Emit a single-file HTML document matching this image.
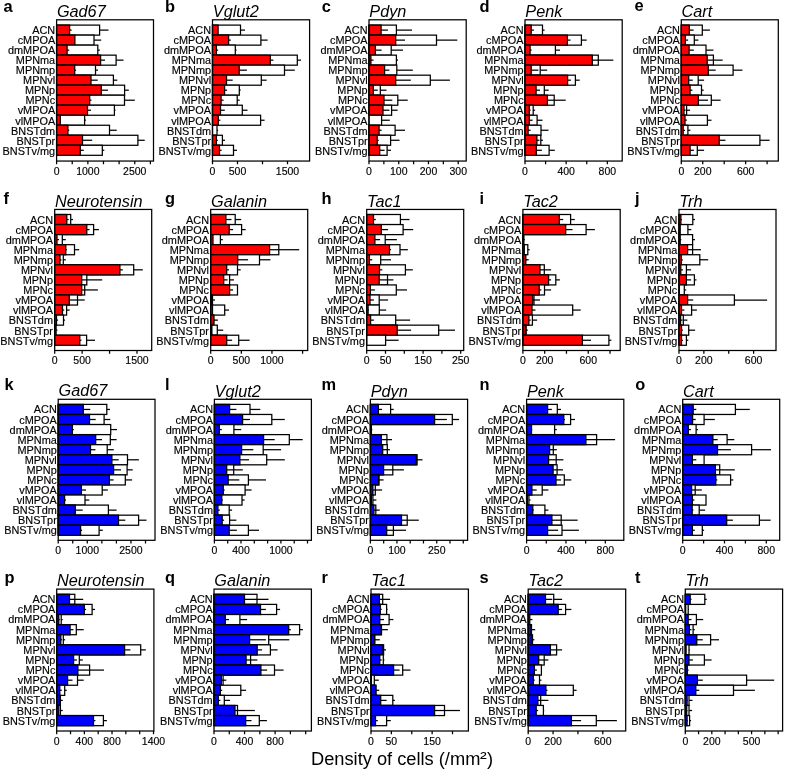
<!DOCTYPE html>
<html lang="en"><head><meta charset="utf-8"><title>Density of cells</title>
<style>html,body{margin:0;padding:0;background:#fff}svg{display:block}text{font-family:"Liberation Sans", Arial, Helvetica, sans-serif;fill:#000}.l,.t{stroke:#000;stroke-width:.15px}.l{font-size:10.9px;text-anchor:end}.t{font-size:10.5px;text-anchor:middle}.h{font-size:16.25px;font-style:italic}.p{font-size:16.4px;font-weight:bold}.fr{fill:none;stroke:#000;stroke-width:1.25}.b{stroke:#000;stroke-width:1.25}.e{stroke:#000;stroke-width:1.25;fill:none}</style></head><body>
<svg width="785" height="771" viewBox="0 0 785 771">
<rect width="785" height="771" fill="#fff"/>
<g id="panel-a">
<text class="p" x="3.6" y="11.8">a</text>
<text class="h" transform="translate(56.9 16.8) scale(1 1.0)">Gad67</text>
<text class="l" x="55.2" y="33.6">ACN</text>
<rect class="b" x="56.6" y="25.1" width="43" height="10.02" fill="#fff"/>
<path class="e" d="M99.6 30.11H108.5"/>
<rect class="b" x="56.6" y="25.1" width="13" height="10.02" fill="#ff0000"/>
<path class="e" d="M69.6 30.11H71.6"/>
<text class="l" x="55.2" y="43.7">cMPOA</text>
<rect class="b" x="56.6" y="35.12" width="37.4" height="10.02" fill="#fff"/>
<path class="e" d="M94 40.12H101.2"/>
<rect class="b" x="56.6" y="35.12" width="18.3" height="10.02" fill="#ff0000"/>
<text class="l" x="55.2" y="53.8">dmMPOA</text>
<rect class="b" x="56.6" y="45.13" width="41.2" height="10.02" fill="#fff"/>
<path class="e" d="M97.8 50.14H99.8"/>
<rect class="b" x="56.6" y="45.13" width="10.5" height="10.02" fill="#ff0000"/>
<path class="e" d="M67.1 50.14H69.2"/>
<text class="l" x="55.2" y="63.9">MPNma</text>
<rect class="b" x="56.6" y="55.15" width="59.5" height="10.02" fill="#fff"/>
<path class="e" d="M116.1 60.15H123.5"/>
<rect class="b" x="56.6" y="55.15" width="44" height="10.02" fill="#ff0000"/>
<path class="e" d="M100.6 60.15H105"/>
<text class="l" x="55.2" y="74">MPNmp</text>
<rect class="b" x="56.6" y="65.16" width="38.9" height="10.02" fill="#fff"/>
<path class="e" d="M95.5 70.17H98"/>
<rect class="b" x="56.6" y="65.16" width="18.1" height="10.02" fill="#ff0000"/>
<path class="e" d="M74.7 70.17H76.1"/>
<text class="l" x="55.2" y="84.1">MPNvl</text>
<rect class="b" x="56.6" y="75.18" width="56.8" height="10.02" fill="#fff"/>
<path class="e" d="M113.4 80.18H117.3"/>
<rect class="b" x="56.6" y="75.18" width="34.4" height="10.02" fill="#ff0000"/>
<path class="e" d="M91 80.18H97.7"/>
<text class="l" x="55.2" y="94.2">MPNp</text>
<rect class="b" x="56.6" y="85.19" width="68" height="10.02" fill="#fff"/>
<path class="e" d="M124.6 90.2H128.8"/>
<rect class="b" x="56.6" y="85.19" width="44.7" height="10.02" fill="#ff0000"/>
<path class="e" d="M101.3 90.2H108"/>
<text class="l" x="55.2" y="104.3">MPNc</text>
<rect class="b" x="56.6" y="95.21" width="67.9" height="10.02" fill="#fff"/>
<path class="e" d="M124.5 100.21H134.8"/>
<rect class="b" x="56.6" y="95.21" width="33.1" height="10.02" fill="#ff0000"/>
<path class="e" d="M89.7 100.21H91.4"/>
<text class="l" x="55.2" y="114.4">vMPOA</text>
<rect class="b" x="56.6" y="105.22" width="57.8" height="10.02" fill="#fff"/>
<path class="e" d="M114.4 110.23H115.5"/>
<rect class="b" x="56.6" y="105.22" width="30.9" height="10.02" fill="#ff0000"/>
<path class="e" d="M87.5 110.23H91"/>
<text class="l" x="55.2" y="124.5">vlMPOA</text>
<rect class="b" x="56.6" y="115.24" width="28" height="10.02" fill="#fff"/>
<path class="e" d="M84.6 120.24H86"/>
<rect class="b" x="56.6" y="115.24" width="3.7" height="10.02" fill="#ff0000"/>
<text class="l" x="55.2" y="134.6">BNSTdm</text>
<rect class="b" x="56.6" y="125.25" width="52.9" height="10.02" fill="#fff"/>
<path class="e" d="M109.5 130.26H116.7"/>
<rect class="b" x="56.6" y="125.25" width="11.3" height="10.02" fill="#ff0000"/>
<path class="e" d="M67.9 130.26H69.2"/>
<text class="l" x="55.2" y="144.7">BNSTpr</text>
<rect class="b" x="56.6" y="135.27" width="81.3" height="10.02" fill="#fff"/>
<path class="e" d="M137.9 140.27H144.7"/>
<rect class="b" x="56.6" y="135.27" width="25.9" height="10.02" fill="#ff0000"/>
<path class="e" d="M82.5 140.27H92.2"/>
<text class="l" x="55.2" y="154.8">BNSTv/mg</text>
<rect class="b" x="56.6" y="145.28" width="45.7" height="10.02" fill="#fff"/>
<path class="e" d="M102.3 150.29H104.3"/>
<rect class="b" x="56.6" y="145.28" width="23.7" height="10.02" fill="#ff0000"/>
<path class="e" d="M80.3 150.29H83.8"/>
<rect class="fr" x="56.6" y="19.8" width="96.9" height="141.25"/>
<path class="e" d="M56.6 161.05v3.2M72.23 161.05v3.2M87.86 161.05v3.2M103.49 161.05v3.2M119.12 161.05v3.2M134.75 161.05v3.2M150.38 161.05v3.2"/>
<text class="t" x="56.6" y="174.85">0</text>
<text class="t" x="87.86" y="174.85">1000</text>
<text class="t" x="134.75" y="174.85">2500</text>
</g>
<g id="panel-b">
<text class="p" x="165" y="11.6">b</text>
<text class="h" transform="translate(212.8 16.8) scale(1 1.0)">Vglut2</text>
<text class="l" x="211.1" y="33.6">ACN</text>
<rect class="b" x="212.5" y="25.1" width="28" height="10.02" fill="#fff"/>
<path class="e" d="M240.5 30.11H245"/>
<rect class="b" x="212.5" y="25.1" width="5.6" height="10.02" fill="#ff0000"/>
<text class="l" x="211.1" y="43.7">cMPOA</text>
<rect class="b" x="212.5" y="35.12" width="48.4" height="10.02" fill="#fff"/>
<path class="e" d="M260.9 40.12H267.6"/>
<rect class="b" x="212.5" y="35.12" width="16.1" height="10.02" fill="#ff0000"/>
<path class="e" d="M228.6 40.12H230.8"/>
<text class="l" x="211.1" y="53.8">dmMPOA</text>
<rect class="b" x="212.5" y="45.13" width="22.8" height="10.02" fill="#fff"/>
<path class="e" d="M235.3 50.14H236.6"/>
<rect class="b" x="212.5" y="45.13" width="3.9" height="10.02" fill="#ff0000"/>
<path class="e" d="M216.4 50.14H218.1"/>
<text class="l" x="211.1" y="63.9">MPNma</text>
<rect class="b" x="212.5" y="55.15" width="84.8" height="10.02" fill="#fff"/>
<path class="e" d="M297.3 60.15H301"/>
<rect class="b" x="212.5" y="55.15" width="57.8" height="10.02" fill="#ff0000"/>
<path class="e" d="M270.3 60.15H273.4"/>
<text class="l" x="211.1" y="74">MPNmp</text>
<rect class="b" x="212.5" y="65.16" width="72" height="10.02" fill="#fff"/>
<path class="e" d="M284.5 70.17H294.8"/>
<rect class="b" x="212.5" y="65.16" width="26.7" height="10.02" fill="#ff0000"/>
<path class="e" d="M239.2 70.17H246.9"/>
<text class="l" x="211.1" y="84.1">MPNvl</text>
<rect class="b" x="212.5" y="75.18" width="48.8" height="10.02" fill="#fff"/>
<path class="e" d="M261.3 80.18H266.6"/>
<rect class="b" x="212.5" y="75.18" width="14" height="10.02" fill="#ff0000"/>
<path class="e" d="M226.5 80.18H232.7"/>
<text class="l" x="211.1" y="94.2">MPNp</text>
<rect class="b" x="212.5" y="85.19" width="26.8" height="10.02" fill="#fff"/>
<path class="e" d="M239.3 90.2H240.7"/>
<rect class="b" x="212.5" y="85.19" width="12.1" height="10.02" fill="#ff0000"/>
<path class="e" d="M224.6 90.2H227.1"/>
<text class="l" x="211.1" y="104.3">MPNc</text>
<rect class="b" x="212.5" y="95.21" width="24.7" height="10.02" fill="#fff"/>
<path class="e" d="M237.2 100.21H239.7"/>
<rect class="b" x="212.5" y="95.21" width="8.6" height="10.02" fill="#ff0000"/>
<path class="e" d="M221.1 100.21H223.6"/>
<text class="l" x="211.1" y="114.4">vMPOA</text>
<rect class="b" x="212.5" y="105.22" width="29.8" height="10.02" fill="#fff"/>
<path class="e" d="M242.3 110.23H247.5"/>
<rect class="b" x="212.5" y="105.22" width="8" height="10.02" fill="#ff0000"/>
<path class="e" d="M220.5 110.23H224.8"/>
<text class="l" x="211.1" y="124.5">vlMPOA</text>
<rect class="b" x="212.5" y="115.24" width="48.1" height="10.02" fill="#fff"/>
<path class="e" d="M260.6 120.24H264.6"/>
<rect class="b" x="212.5" y="115.24" width="5.8" height="10.02" fill="#ff0000"/>
<path class="e" d="M218.3 120.24H220.3"/>
<text class="l" x="211.1" y="134.6">BNSTdm</text>
<rect class="b" x="212.5" y="125.25" width="4.5" height="10.02" fill="#fff"/>
<path class="e" d="M217 130.26H218.1"/>
<text class="l" x="211.1" y="144.7">BNSTpr</text>
<rect class="b" x="212.5" y="135.27" width="9.9" height="10.02" fill="#fff"/>
<path class="e" d="M222.4 140.27H225"/>
<rect class="b" x="212.5" y="135.27" width="3.9" height="10.02" fill="#ff0000"/>
<path class="e" d="M216.4 140.27H217.8"/>
<text class="l" x="211.1" y="154.8">BNSTv/mg</text>
<rect class="b" x="212.5" y="145.28" width="21" height="10.02" fill="#fff"/>
<path class="e" d="M233.5 150.29H237"/>
<rect class="b" x="212.5" y="145.28" width="7" height="10.02" fill="#ff0000"/>
<path class="e" d="M219.5 150.29H221.6"/>
<rect class="fr" x="212.5" y="19.8" width="97.1" height="141.25"/>
<path class="e" d="M212.5 161.05v3.2M237.5 161.05v3.2M262.5 161.05v3.2M287.5 161.05v3.2"/>
<text class="t" x="212.5" y="174.85">0</text>
<text class="t" x="237.5" y="174.85">500</text>
<text class="t" x="287.5" y="174.85">1500</text>
</g>
<g id="panel-c">
<text class="p" x="321.8" y="11.5">c</text>
<text class="h" transform="translate(369.3 16.8) scale(1 1.0)">Pdyn</text>
<text class="l" x="367.6" y="33.6">ACN</text>
<rect class="b" x="369" y="25.1" width="27.4" height="10.02" fill="#fff"/>
<path class="e" d="M396.4 30.11H412"/>
<rect class="b" x="369" y="25.1" width="12.1" height="10.02" fill="#ff0000"/>
<path class="e" d="M381.1 30.11H387.9"/>
<text class="l" x="367.6" y="43.7">cMPOA</text>
<rect class="b" x="369" y="35.12" width="67.5" height="10.02" fill="#fff"/>
<path class="e" d="M436.5 40.12H457.3"/>
<rect class="b" x="369" y="35.12" width="26.7" height="10.02" fill="#ff0000"/>
<path class="e" d="M395.7 40.12H405"/>
<text class="l" x="367.6" y="53.8">dmMPOA</text>
<rect class="b" x="369" y="45.13" width="22.2" height="10.02" fill="#fff"/>
<path class="e" d="M391.2 50.14H403"/>
<rect class="b" x="369" y="45.13" width="6.4" height="10.02" fill="#ff0000"/>
<path class="e" d="M375.4 50.14H381.6"/>
<text class="l" x="367.6" y="63.9">MPNma</text>
<rect class="b" x="369" y="55.15" width="27.4" height="10.02" fill="#fff"/>
<path class="e" d="M396.4 60.15H398"/>
<rect class="b" x="369" y="55.15" width="1.9" height="10.02" fill="#ff0000"/>
<path class="e" d="M370.9 60.15H373.5"/>
<text class="l" x="367.6" y="74">MPNmp</text>
<rect class="b" x="369" y="65.16" width="27.8" height="10.02" fill="#fff"/>
<path class="e" d="M396.8 70.17H412.8"/>
<rect class="b" x="369" y="65.16" width="15.6" height="10.02" fill="#ff0000"/>
<path class="e" d="M384.6 70.17H389.4"/>
<text class="l" x="367.6" y="84.1">MPNvl</text>
<rect class="b" x="369" y="75.18" width="61.3" height="10.02" fill="#fff"/>
<path class="e" d="M430.3 80.18H449.9"/>
<rect class="b" x="369" y="75.18" width="26.7" height="10.02" fill="#ff0000"/>
<path class="e" d="M395.7 80.18H410.8"/>
<text class="l" x="367.6" y="94.2">MPNp</text>
<rect class="b" x="369" y="85.19" width="11.3" height="10.02" fill="#fff"/>
<path class="e" d="M380.3 90.2H386.5"/>
<rect class="b" x="369" y="85.19" width="4.3" height="10.02" fill="#ff0000"/>
<path class="e" d="M373.3 90.2H377.8"/>
<text class="l" x="367.6" y="104.3">MPNc</text>
<rect class="b" x="369" y="95.21" width="28.8" height="10.02" fill="#fff"/>
<path class="e" d="M397.8 100.21H407.7"/>
<rect class="b" x="369" y="95.21" width="15" height="10.02" fill="#ff0000"/>
<path class="e" d="M384 100.21H392.3"/>
<text class="l" x="367.6" y="114.4">vMPOA</text>
<rect class="b" x="369" y="105.22" width="22.6" height="10.02" fill="#fff"/>
<path class="e" d="M391.6 110.23H397.6"/>
<rect class="b" x="369" y="105.22" width="14" height="10.02" fill="#ff0000"/>
<path class="e" d="M383 110.23H389.4"/>
<text class="l" x="367.6" y="124.5">vlMPOA</text>
<rect class="b" x="369" y="115.24" width="12.6" height="10.02" fill="#fff"/>
<path class="e" d="M381.6 120.24H389.8"/>
<text class="l" x="367.6" y="134.6">BNSTdm</text>
<rect class="b" x="369" y="125.25" width="26.1" height="10.02" fill="#fff"/>
<path class="e" d="M395.1 130.26H405"/>
<rect class="b" x="369" y="125.25" width="10.1" height="10.02" fill="#ff0000"/>
<path class="e" d="M379.1 130.26H381.6"/>
<text class="l" x="367.6" y="144.7">BNSTpr</text>
<rect class="b" x="369" y="135.27" width="21.6" height="10.02" fill="#fff"/>
<path class="e" d="M390.6 140.27H399.5"/>
<rect class="b" x="369" y="135.27" width="8.2" height="10.02" fill="#ff0000"/>
<path class="e" d="M377.2 140.27H378.7"/>
<text class="l" x="367.6" y="154.8">BNSTv/mg</text>
<rect class="b" x="369" y="145.28" width="18.1" height="10.02" fill="#fff"/>
<path class="e" d="M387.1 150.29H391"/>
<rect class="b" x="369" y="145.28" width="10.7" height="10.02" fill="#ff0000"/>
<path class="e" d="M379.7 150.29H384.6"/>
<rect class="fr" x="369" y="19.8" width="97.2" height="141.25"/>
<path class="e" d="M369 161.05v3.2M383.87 161.05v3.2M398.74 161.05v3.2M413.61 161.05v3.2M428.48 161.05v3.2M443.35 161.05v3.2M458.22 161.05v3.2"/>
<text class="t" x="369" y="174.85">0</text>
<text class="t" x="398.74" y="174.85">100</text>
<text class="t" x="428.48" y="174.85">200</text>
<text class="t" x="458.22" y="174.85">300</text>
</g>
<g id="panel-d">
<text class="p" x="479.6" y="11.5">d</text>
<text class="h" transform="translate(525.3 16.8) scale(1 1.0)">Penk</text>
<text class="l" x="523.6" y="33.6">ACN</text>
<rect class="b" x="525" y="25.1" width="17.5" height="10.02" fill="#fff"/>
<path class="e" d="M542.5 30.11H544.6"/>
<rect class="b" x="525" y="25.1" width="6.2" height="10.02" fill="#ff0000"/>
<path class="e" d="M531.2 30.11H533.9"/>
<text class="l" x="523.6" y="43.7">cMPOA</text>
<rect class="b" x="525" y="35.12" width="56.4" height="10.02" fill="#fff"/>
<path class="e" d="M581.4 40.12H586.7"/>
<rect class="b" x="525" y="35.12" width="42.4" height="10.02" fill="#ff0000"/>
<path class="e" d="M567.4 40.12H570.5"/>
<text class="l" x="523.6" y="53.8">dmMPOA</text>
<rect class="b" x="525" y="45.13" width="30.4" height="10.02" fill="#fff"/>
<path class="e" d="M555.4 50.14H560"/>
<rect class="b" x="525" y="45.13" width="5.1" height="10.02" fill="#ff0000"/>
<path class="e" d="M530.1 50.14H531.6"/>
<text class="l" x="523.6" y="63.9">MPNma</text>
<rect class="b" x="525" y="55.15" width="73.3" height="10.02" fill="#fff"/>
<path class="e" d="M598.3 60.15H613.3"/>
<rect class="b" x="525" y="55.15" width="67.3" height="10.02" fill="#ff0000"/>
<path class="e" d="M592.3 60.15H598.3"/>
<text class="l" x="523.6" y="74">MPNmp</text>
<rect class="b" x="525" y="65.16" width="15.2" height="10.02" fill="#fff"/>
<path class="e" d="M540.2 70.17H547.2"/>
<rect class="b" x="525" y="65.16" width="6.2" height="10.02" fill="#ff0000"/>
<path class="e" d="M531.2 70.17H538.4"/>
<text class="l" x="523.6" y="84.1">MPNvl</text>
<rect class="b" x="525" y="75.18" width="50.4" height="10.02" fill="#fff"/>
<path class="e" d="M575.4 80.18H579.7"/>
<rect class="b" x="525" y="75.18" width="42.6" height="10.02" fill="#ff0000"/>
<path class="e" d="M567.6 80.18H570.9"/>
<text class="l" x="523.6" y="94.2">MPNp</text>
<rect class="b" x="525" y="85.19" width="19.3" height="10.02" fill="#fff"/>
<path class="e" d="M544.3 90.2H548.7"/>
<rect class="b" x="525" y="85.19" width="11.1" height="10.02" fill="#ff0000"/>
<path class="e" d="M536.1 90.2H540"/>
<text class="l" x="523.6" y="104.3">MPNc</text>
<rect class="b" x="525" y="95.21" width="29.2" height="10.02" fill="#fff"/>
<path class="e" d="M554.2 100.21H565.7"/>
<rect class="b" x="525" y="95.21" width="22.4" height="10.02" fill="#ff0000"/>
<path class="e" d="M547.4 100.21H554.2"/>
<text class="l" x="523.6" y="114.4">vMPOA</text>
<rect class="b" x="525" y="105.22" width="8.2" height="10.02" fill="#fff"/>
<path class="e" d="M533.2 110.23H535.1"/>
<rect class="b" x="525" y="105.22" width="4.3" height="10.02" fill="#ff0000"/>
<path class="e" d="M529.3 110.23H530.6"/>
<text class="l" x="523.6" y="124.5">vlMPOA</text>
<rect class="b" x="525" y="115.24" width="12.1" height="10.02" fill="#fff"/>
<path class="e" d="M537.1 120.24H542.5"/>
<rect class="b" x="525" y="115.24" width="4.3" height="10.02" fill="#ff0000"/>
<path class="e" d="M529.3 120.24H532.6"/>
<text class="l" x="523.6" y="134.6">BNSTdm</text>
<rect class="b" x="525" y="125.25" width="16" height="10.02" fill="#fff"/>
<path class="e" d="M541 130.26H548.5"/>
<rect class="b" x="525" y="125.25" width="3.1" height="10.02" fill="#ff0000"/>
<path class="e" d="M528.1 130.26H530.6"/>
<text class="l" x="523.6" y="144.7">BNSTpr</text>
<rect class="b" x="525" y="135.27" width="15.8" height="10.02" fill="#fff"/>
<path class="e" d="M540.8 140.27H542.9"/>
<rect class="b" x="525" y="135.27" width="11.9" height="10.02" fill="#ff0000"/>
<path class="e" d="M536.9 140.27H539.4"/>
<text class="l" x="523.6" y="154.8">BNSTv/mg</text>
<rect class="b" x="525" y="145.28" width="24.1" height="10.02" fill="#fff"/>
<path class="e" d="M549.1 150.29H554.8"/>
<rect class="b" x="525" y="145.28" width="11.3" height="10.02" fill="#ff0000"/>
<path class="e" d="M536.3 150.29H541.9"/>
<rect class="fr" x="525" y="19.8" width="97.2" height="141.25"/>
<path class="e" d="M525 161.05v3.2M545.58 161.05v3.2M566.16 161.05v3.2M586.74 161.05v3.2M607.32 161.05v3.2"/>
<text class="t" x="525" y="174.85">0</text>
<text class="t" x="566.16" y="174.85">400</text>
<text class="t" x="607.32" y="174.85">800</text>
</g>
<g id="panel-e">
<text class="p" x="634.6" y="11.3">e</text>
<text class="h" transform="translate(681.6 16.8) scale(1 1.0)">Cart</text>
<text class="l" x="679.9" y="33.6">ACN</text>
<rect class="b" x="681.3" y="25.1" width="21" height="10.02" fill="#fff"/>
<path class="e" d="M702.3 30.11H709.9"/>
<rect class="b" x="681.3" y="25.1" width="8" height="10.02" fill="#ff0000"/>
<path class="e" d="M689.3 30.11H693.6"/>
<text class="l" x="679.9" y="43.7">cMPOA</text>
<rect class="b" x="681.3" y="35.12" width="13" height="10.02" fill="#fff"/>
<path class="e" d="M694.3 40.12H698.4"/>
<rect class="b" x="681.3" y="35.12" width="4.1" height="10.02" fill="#ff0000"/>
<path class="e" d="M685.4 40.12H688.1"/>
<text class="l" x="679.9" y="53.8">dmMPOA</text>
<rect class="b" x="681.3" y="45.13" width="24.7" height="10.02" fill="#fff"/>
<path class="e" d="M706 50.14H713.4"/>
<rect class="b" x="681.3" y="45.13" width="7.8" height="10.02" fill="#ff0000"/>
<path class="e" d="M689.1 50.14H693.8"/>
<text class="l" x="679.9" y="63.9">MPNma</text>
<rect class="b" x="681.3" y="55.15" width="32.1" height="10.02" fill="#fff"/>
<path class="e" d="M713.4 60.15H722.7"/>
<rect class="b" x="681.3" y="55.15" width="25.9" height="10.02" fill="#ff0000"/>
<path class="e" d="M707.2 60.15H713.4"/>
<text class="l" x="679.9" y="74">MPNmp</text>
<rect class="b" x="681.3" y="65.16" width="51.8" height="10.02" fill="#fff"/>
<path class="e" d="M733.1 70.17H742.4"/>
<rect class="b" x="681.3" y="65.16" width="27" height="10.02" fill="#ff0000"/>
<path class="e" d="M708.3 70.17H715.7"/>
<text class="l" x="679.9" y="84.1">MPNvl</text>
<rect class="b" x="681.3" y="75.18" width="16.9" height="10.02" fill="#fff"/>
<path class="e" d="M698.2 80.18H704.1"/>
<rect class="b" x="681.3" y="75.18" width="7.4" height="10.02" fill="#ff0000"/>
<path class="e" d="M688.7 80.18H692.8"/>
<text class="l" x="679.9" y="94.2">MPNp</text>
<rect class="b" x="681.3" y="85.19" width="20.2" height="10.02" fill="#fff"/>
<path class="e" d="M701.5 90.2H703.7"/>
<rect class="b" x="681.3" y="85.19" width="8.8" height="10.02" fill="#ff0000"/>
<path class="e" d="M690.1 90.2H692.4"/>
<text class="l" x="679.9" y="104.3">MPNc</text>
<rect class="b" x="681.3" y="95.21" width="30" height="10.02" fill="#fff"/>
<path class="e" d="M711.3 100.21H720.6"/>
<rect class="b" x="681.3" y="95.21" width="17.1" height="10.02" fill="#ff0000"/>
<path class="e" d="M698.4 100.21H708"/>
<text class="l" x="679.9" y="114.4">vMPOA</text>
<rect class="b" x="681.3" y="105.22" width="5.3" height="10.02" fill="#fff"/>
<path class="e" d="M686.6 110.23H690.1"/>
<rect class="b" x="681.3" y="105.22" width="2.7" height="10.02" fill="#ff0000"/>
<path class="e" d="M684 110.23H685.6"/>
<text class="l" x="679.9" y="124.5">vlMPOA</text>
<rect class="b" x="681.3" y="115.24" width="26.1" height="10.02" fill="#fff"/>
<path class="e" d="M707.4 120.24H711.5"/>
<rect class="b" x="681.3" y="115.24" width="3.7" height="10.02" fill="#ff0000"/>
<path class="e" d="M685 120.24H686.9"/>
<text class="l" x="679.9" y="134.6">BNSTdm</text>
<rect class="b" x="681.3" y="125.25" width="6.6" height="10.02" fill="#fff"/>
<path class="e" d="M687.9 130.26H690.4"/>
<rect class="b" x="681.3" y="125.25" width="1.9" height="10.02" fill="#ff0000"/>
<path class="e" d="M683.2 130.26H685"/>
<text class="l" x="679.9" y="144.7">BNSTpr</text>
<rect class="b" x="681.3" y="135.27" width="78.6" height="10.02" fill="#fff"/>
<path class="e" d="M759.9 140.27H769.6"/>
<rect class="b" x="681.3" y="135.27" width="37.9" height="10.02" fill="#ff0000"/>
<path class="e" d="M719.2 140.27H725.5"/>
<text class="l" x="679.9" y="154.8">BNSTv/mg</text>
<rect class="b" x="681.3" y="145.28" width="16" height="10.02" fill="#fff"/>
<path class="e" d="M697.3 150.29H704.1"/>
<rect class="b" x="681.3" y="145.28" width="8.8" height="10.02" fill="#ff0000"/>
<path class="e" d="M690.1 150.29H693.9"/>
<rect class="fr" x="681.3" y="19.8" width="97" height="141.25"/>
<path class="e" d="M681.3 161.05v3.2M702.75 161.05v3.2M724.2 161.05v3.2M745.65 161.05v3.2M767.1 161.05v3.2"/>
<text class="t" x="681.3" y="174.85">0</text>
<text class="t" x="702.75" y="174.85">200</text>
<text class="t" x="745.65" y="174.85">600</text>
</g>
<g id="panel-f">
<text class="p" x="3.6" y="204.2">f</text>
<text class="h" transform="translate(55 207.35) scale(1 1.0)">Neurotensin</text>
<text class="l" x="53" y="223.63">ACN</text>
<rect class="b" x="54.7" y="214.5" width="16" height="10.06" fill="#fff"/>
<path class="e" d="M70.7 219.53H73"/>
<rect class="b" x="54.7" y="214.5" width="12.1" height="10.06" fill="#ff0000"/>
<path class="e" d="M66.8 219.53H68.7"/>
<text class="l" x="53" y="233.71">cMPOA</text>
<rect class="b" x="54.7" y="224.56" width="38.9" height="10.06" fill="#fff"/>
<path class="e" d="M93.6 229.59H98.9"/>
<rect class="b" x="54.7" y="224.56" width="32.1" height="10.06" fill="#ff0000"/>
<path class="e" d="M86.8 229.59H89.5"/>
<text class="l" x="53" y="243.79">dmMPOA</text>
<rect class="b" x="54.7" y="234.62" width="7.6" height="10.06" fill="#fff"/>
<path class="e" d="M62.3 239.65H65.8"/>
<rect class="b" x="54.7" y="234.62" width="2.3" height="10.06" fill="#ff0000"/>
<path class="e" d="M57 239.65H59"/>
<text class="l" x="53" y="253.87">MPNma</text>
<rect class="b" x="54.7" y="244.68" width="19.8" height="10.06" fill="#fff"/>
<path class="e" d="M74.5 249.71H79.2"/>
<rect class="b" x="54.7" y="244.68" width="11.1" height="10.06" fill="#ff0000"/>
<path class="e" d="M65.8 249.71H66.8"/>
<text class="l" x="53" y="263.95">MPNmp</text>
<rect class="b" x="54.7" y="254.74" width="8.6" height="10.06" fill="#fff"/>
<path class="e" d="M63.3 259.77H65.8"/>
<rect class="b" x="54.7" y="254.74" width="5.3" height="10.06" fill="#ff0000"/>
<path class="e" d="M60 259.77H61.5"/>
<text class="l" x="53" y="274.03">MPNvl</text>
<rect class="b" x="54.7" y="264.8" width="79" height="10.06" fill="#fff"/>
<path class="e" d="M133.7 269.83H142.8"/>
<rect class="b" x="54.7" y="264.8" width="65.2" height="10.06" fill="#ff0000"/>
<path class="e" d="M119.9 269.83H122.8"/>
<text class="l" x="53" y="284.11">MPNp</text>
<rect class="b" x="54.7" y="274.86" width="32.1" height="10.06" fill="#fff"/>
<path class="e" d="M86.8 279.89H102.2"/>
<rect class="b" x="54.7" y="274.86" width="27" height="10.06" fill="#ff0000"/>
<path class="e" d="M81.7 279.89H86.8"/>
<text class="l" x="53" y="294.19">MPNc</text>
<rect class="b" x="54.7" y="284.92" width="30" height="10.06" fill="#fff"/>
<path class="e" d="M84.7 289.95H97.9"/>
<rect class="b" x="54.7" y="284.92" width="27" height="10.06" fill="#ff0000"/>
<path class="e" d="M81.7 289.95H84.7"/>
<text class="l" x="53" y="304.27">vMPOA</text>
<rect class="b" x="54.7" y="294.98" width="22.8" height="10.06" fill="#fff"/>
<path class="e" d="M77.5 300.01H84.7"/>
<rect class="b" x="54.7" y="294.98" width="14.6" height="10.06" fill="#ff0000"/>
<path class="e" d="M69.3 300.01H77.5"/>
<text class="l" x="53" y="314.35">vlMPOA</text>
<rect class="b" x="54.7" y="305.04" width="11.9" height="10.06" fill="#fff"/>
<path class="e" d="M66.6 310.07H69.7"/>
<rect class="b" x="54.7" y="305.04" width="7.8" height="10.06" fill="#ff0000"/>
<path class="e" d="M62.5 310.07H64.2"/>
<text class="l" x="53" y="324.43">BNSTdm</text>
<rect class="b" x="54.7" y="315.1" width="8.8" height="10.06" fill="#fff"/>
<path class="e" d="M63.5 320.13H65"/>
<rect class="b" x="54.7" y="315.1" width="1.8" height="10.06" fill="#ff0000"/>
<path class="e" d="M56.5 320.13H58"/>
<text class="l" x="53" y="334.51">BNSTpr</text>
<rect class="b" x="54.7" y="325.16" width="1.4" height="10.06" fill="#fff"/>
<path class="e" d="M56.1 330.19H57.4"/>
<rect class="b" x="54.7" y="325.16" width="0.4" height="10.06" fill="#ff0000"/>
<text class="l" x="53" y="344.59">BNSTv/mg</text>
<rect class="b" x="54.7" y="335.22" width="31.9" height="10.06" fill="#fff"/>
<path class="e" d="M86.6 340.25H95"/>
<rect class="b" x="54.7" y="335.22" width="25.1" height="10.06" fill="#ff0000"/>
<path class="e" d="M79.8 340.25H81.4"/>
<rect class="fr" x="54.7" y="209.45" width="97" height="141.05"/>
<path class="e" d="M54.7 350.5v3.2M82.13 350.5v3.2M109.56 350.5v3.2M136.99 350.5v3.2"/>
<text class="t" x="54.7" y="364.3">0</text>
<text class="t" x="82.13" y="364.3">500</text>
<text class="t" x="136.99" y="364.3">1500</text>
</g>
<g id="panel-g">
<text class="p" x="165" y="204.2">g</text>
<text class="h" transform="translate(211 207.35) scale(1 1.0)">Galanin</text>
<text class="l" x="209" y="223.63">ACN</text>
<rect class="b" x="210.7" y="214.5" width="24.5" height="10.06" fill="#fff"/>
<path class="e" d="M235.2 219.53H241.2"/>
<rect class="b" x="210.7" y="214.5" width="15.2" height="10.06" fill="#ff0000"/>
<path class="e" d="M225.9 219.53H231.5"/>
<text class="l" x="209" y="233.71">cMPOA</text>
<rect class="b" x="210.7" y="224.56" width="30.9" height="10.06" fill="#fff"/>
<path class="e" d="M241.6 229.59H245.7"/>
<rect class="b" x="210.7" y="224.56" width="18.5" height="10.06" fill="#ff0000"/>
<path class="e" d="M229.2 229.59H233.1"/>
<text class="l" x="209" y="243.79">dmMPOA</text>
<rect class="b" x="210.7" y="234.62" width="9.7" height="10.06" fill="#fff"/>
<path class="e" d="M220.4 239.65H222.8"/>
<rect class="b" x="210.7" y="234.62" width="2.3" height="10.06" fill="#ff0000"/>
<text class="l" x="209" y="253.87">MPNma</text>
<rect class="b" x="210.7" y="244.68" width="68.1" height="10.06" fill="#fff"/>
<path class="e" d="M278.8 249.71H299.2"/>
<rect class="b" x="210.7" y="244.68" width="58.9" height="10.06" fill="#ff0000"/>
<path class="e" d="M269.6 249.71H278.8"/>
<text class="l" x="209" y="263.95">MPNmp</text>
<rect class="b" x="210.7" y="254.74" width="48.8" height="10.06" fill="#fff"/>
<path class="e" d="M259.5 259.77H270.4"/>
<rect class="b" x="210.7" y="254.74" width="27" height="10.06" fill="#ff0000"/>
<path class="e" d="M237.7 259.77H248.1"/>
<text class="l" x="209" y="274.03">MPNvl</text>
<rect class="b" x="210.7" y="264.8" width="26.8" height="10.06" fill="#fff"/>
<path class="e" d="M237.5 269.83H240.7"/>
<rect class="b" x="210.7" y="264.8" width="16" height="10.06" fill="#ff0000"/>
<path class="e" d="M226.7 269.83H229"/>
<text class="l" x="209" y="284.11">MPNp</text>
<rect class="b" x="210.7" y="274.86" width="18.9" height="10.06" fill="#fff"/>
<path class="e" d="M229.6 279.89H234"/>
<rect class="b" x="210.7" y="274.86" width="13" height="10.06" fill="#ff0000"/>
<path class="e" d="M223.7 279.89H227.6"/>
<text class="l" x="209" y="294.19">MPNc</text>
<rect class="b" x="210.7" y="284.92" width="26.8" height="10.06" fill="#fff"/>
<rect class="b" x="210.7" y="284.92" width="18.9" height="10.06" fill="#ff0000"/>
<path class="e" d="M229.6 289.95H233.1"/>
<text class="l" x="209" y="304.27">vMPOA</text>
<rect class="b" x="210.7" y="294.98" width="1.8" height="10.06" fill="#fff"/>
<path class="e" d="M212.5 300.01H215"/>
<rect class="b" x="210.7" y="294.98" width="1.2" height="10.06" fill="#ff0000"/>
<text class="l" x="209" y="314.35">vlMPOA</text>
<rect class="b" x="210.7" y="305.04" width="14" height="10.06" fill="#fff"/>
<path class="e" d="M224.7 310.07H229"/>
<rect class="b" x="210.7" y="305.04" width="1.8" height="10.06" fill="#ff0000"/>
<text class="l" x="209" y="324.43">BNSTdm</text>
<rect class="b" x="210.7" y="315.1" width="3.3" height="10.06" fill="#fff"/>
<path class="e" d="M214 320.13H217.9"/>
<rect class="b" x="210.7" y="315.1" width="2.7" height="10.06" fill="#ff0000"/>
<path class="e" d="M213.4 320.13H214.6"/>
<text class="l" x="209" y="334.51">BNSTpr</text>
<rect class="b" x="210.7" y="325.16" width="6.6" height="10.06" fill="#fff"/>
<path class="e" d="M217.3 330.19H223.2"/>
<rect class="b" x="210.7" y="325.16" width="1.2" height="10.06" fill="#ff0000"/>
<text class="l" x="209" y="344.59">BNSTv/mg</text>
<rect class="b" x="210.7" y="335.22" width="28" height="10.06" fill="#fff"/>
<path class="e" d="M238.7 340.25H249.6"/>
<rect class="b" x="210.7" y="335.22" width="16" height="10.06" fill="#ff0000"/>
<path class="e" d="M226.7 340.25H232.1"/>
<rect class="fr" x="210.7" y="209.45" width="97" height="141.05"/>
<path class="e" d="M210.7 350.5v3.2M241.33 350.5v3.2M271.96 350.5v3.2M302.59 350.5v3.2"/>
<text class="t" x="210.7" y="364.3">0</text>
<text class="t" x="241.33" y="364.3">500</text>
<text class="t" x="271.96" y="364.3">1000</text>
</g>
<g id="panel-h">
<text class="p" x="321.6" y="204.2">h</text>
<text class="h" transform="translate(367 207.35) scale(1 1.0)">Tac1</text>
<text class="l" x="365" y="223.63">ACN</text>
<rect class="b" x="366.7" y="214.5" width="33.7" height="10.06" fill="#fff"/>
<path class="e" d="M400.4 219.53H409.5"/>
<rect class="b" x="366.7" y="214.5" width="6.8" height="10.06" fill="#ff0000"/>
<path class="e" d="M373.5 219.53H375.8"/>
<text class="l" x="365" y="233.71">cMPOA</text>
<rect class="b" x="366.7" y="224.56" width="36.4" height="10.06" fill="#fff"/>
<path class="e" d="M403.1 229.59H413.2"/>
<rect class="b" x="366.7" y="224.56" width="14.6" height="10.06" fill="#ff0000"/>
<path class="e" d="M381.3 229.59H388.1"/>
<text class="l" x="365" y="243.79">dmMPOA</text>
<rect class="b" x="366.7" y="234.62" width="18.5" height="10.06" fill="#fff"/>
<path class="e" d="M385.2 239.65H396.9"/>
<rect class="b" x="366.7" y="234.62" width="8.2" height="10.06" fill="#ff0000"/>
<path class="e" d="M374.9 239.65H380.1"/>
<text class="l" x="365" y="253.87">MPNma</text>
<rect class="b" x="366.7" y="244.68" width="33.3" height="10.06" fill="#fff"/>
<path class="e" d="M400 249.71H407.9"/>
<rect class="b" x="366.7" y="244.68" width="22.8" height="10.06" fill="#ff0000"/>
<path class="e" d="M389.5 249.71H391"/>
<text class="l" x="365" y="263.95">MPNmp</text>
<rect class="b" x="366.7" y="254.74" width="14" height="10.06" fill="#fff"/>
<path class="e" d="M380.7 259.77H391"/>
<rect class="b" x="366.7" y="254.74" width="2.7" height="10.06" fill="#ff0000"/>
<path class="e" d="M369.4 259.77H372.3"/>
<text class="l" x="365" y="274.03">MPNvl</text>
<rect class="b" x="366.7" y="264.8" width="38.7" height="10.06" fill="#fff"/>
<path class="e" d="M405.4 269.83H412.8"/>
<rect class="b" x="366.7" y="264.8" width="12.8" height="10.06" fill="#ff0000"/>
<path class="e" d="M379.5 269.83H382.3"/>
<text class="l" x="365" y="284.11">MPNp</text>
<rect class="b" x="366.7" y="274.86" width="20.8" height="10.06" fill="#fff"/>
<path class="e" d="M387.5 279.89H393.4"/>
<rect class="b" x="366.7" y="274.86" width="12.5" height="10.06" fill="#ff0000"/>
<path class="e" d="M379.2 279.89H387.5"/>
<text class="l" x="365" y="294.19">MPNc</text>
<rect class="b" x="366.7" y="284.92" width="29.6" height="10.06" fill="#fff"/>
<path class="e" d="M396.3 289.95H407"/>
<rect class="b" x="366.7" y="284.92" width="3.7" height="10.06" fill="#ff0000"/>
<path class="e" d="M370.4 289.95H374.9"/>
<text class="l" x="365" y="304.27">vMPOA</text>
<rect class="b" x="366.7" y="294.98" width="12.5" height="10.06" fill="#fff"/>
<path class="e" d="M379.2 300.01H388.1"/>
<rect class="b" x="366.7" y="294.98" width="3.3" height="10.06" fill="#ff0000"/>
<path class="e" d="M370 300.01H373.9"/>
<text class="l" x="365" y="314.35">vlMPOA</text>
<rect class="b" x="366.7" y="305.04" width="12.6" height="10.06" fill="#fff"/>
<path class="e" d="M379.3 310.07H386.2"/>
<rect class="b" x="366.7" y="305.04" width="1.4" height="10.06" fill="#ff0000"/>
<path class="e" d="M368.1 310.07H369"/>
<text class="l" x="365" y="324.43">BNSTdm</text>
<rect class="b" x="366.7" y="315.1" width="29" height="10.06" fill="#fff"/>
<path class="e" d="M395.7 320.13H410.1"/>
<rect class="b" x="366.7" y="315.1" width="3.9" height="10.06" fill="#ff0000"/>
<path class="e" d="M370.6 320.13H373.9"/>
<text class="l" x="365" y="334.51">BNSTpr</text>
<rect class="b" x="366.7" y="325.16" width="72" height="10.06" fill="#fff"/>
<path class="e" d="M438.7 330.19H455"/>
<rect class="b" x="366.7" y="325.16" width="30.5" height="10.06" fill="#ff0000"/>
<path class="e" d="M397.2 330.19H411.1"/>
<text class="l" x="365" y="344.59">BNSTv/mg</text>
<rect class="b" x="366.7" y="335.22" width="18.9" height="10.06" fill="#fff"/>
<path class="e" d="M385.6 340.25H398.6"/>
<rect class="fr" x="366.7" y="209.45" width="97" height="141.05"/>
<path class="e" d="M366.7 350.5v3.2M385.5 350.5v3.2M404.3 350.5v3.2M423.1 350.5v3.2M441.9 350.5v3.2M460.7 350.5v3.2"/>
<text class="t" x="366.7" y="364.3">0</text>
<text class="t" x="385.5" y="364.3">50</text>
<text class="t" x="423.1" y="364.3">150</text>
<text class="t" x="460.7" y="364.3">250</text>
</g>
<g id="panel-i">
<text class="p" x="479.6" y="204.2">i</text>
<text class="h" transform="translate(523.2 207.35) scale(1 1.0)">Tac2</text>
<text class="l" x="521.2" y="223.63">ACN</text>
<rect class="b" x="522.9" y="214.5" width="47.7" height="10.06" fill="#fff"/>
<path class="e" d="M570.6 219.53H574.8"/>
<rect class="b" x="522.9" y="214.5" width="36.4" height="10.06" fill="#ff0000"/>
<path class="e" d="M559.3 219.53H563.2"/>
<text class="l" x="521.2" y="233.71">cMPOA</text>
<rect class="b" x="522.9" y="224.56" width="63.2" height="10.06" fill="#fff"/>
<path class="e" d="M586.1 229.59H594.9"/>
<rect class="b" x="522.9" y="224.56" width="42.8" height="10.06" fill="#ff0000"/>
<path class="e" d="M565.7 229.59H572.5"/>
<text class="l" x="521.2" y="243.79">dmMPOA</text>
<rect class="b" x="522.9" y="234.62" width="1" height="10.06" fill="#fff"/>
<path class="e" d="M523.9 239.65H524.8"/>
<rect class="b" x="522.9" y="234.62" width="0.4" height="10.06" fill="#ff0000"/>
<text class="l" x="521.2" y="253.87">MPNma</text>
<rect class="b" x="522.9" y="244.68" width="4.9" height="10.06" fill="#fff"/>
<path class="e" d="M527.8 249.71H529.7"/>
<rect class="b" x="522.9" y="244.68" width="1.4" height="10.06" fill="#ff0000"/>
<path class="e" d="M524.3 249.71H524.8"/>
<text class="l" x="521.2" y="263.95">MPNmp</text>
<rect class="b" x="522.9" y="254.74" width="2.9" height="10.06" fill="#fff"/>
<path class="e" d="M525.8 259.77H528.7"/>
<rect class="b" x="522.9" y="254.74" width="2.5" height="10.06" fill="#ff0000"/>
<path class="e" d="M525.4 259.77H526.8"/>
<text class="l" x="521.2" y="274.03">MPNvl</text>
<rect class="b" x="522.9" y="264.8" width="21.4" height="10.06" fill="#fff"/>
<path class="e" d="M544.3 269.83H551.1"/>
<rect class="b" x="522.9" y="264.8" width="17.1" height="10.06" fill="#ff0000"/>
<path class="e" d="M540 269.83H544.3"/>
<text class="l" x="521.2" y="284.11">MPNp</text>
<rect class="b" x="522.9" y="274.86" width="32.9" height="10.06" fill="#fff"/>
<path class="e" d="M555.8 279.89H559.9"/>
<rect class="b" x="522.9" y="274.86" width="25.7" height="10.06" fill="#ff0000"/>
<path class="e" d="M548.6 279.89H551.1"/>
<text class="l" x="521.2" y="294.19">MPNc</text>
<rect class="b" x="522.9" y="284.92" width="21.6" height="10.06" fill="#fff"/>
<path class="e" d="M544.5 289.95H551.1"/>
<rect class="b" x="522.9" y="284.92" width="16.3" height="10.06" fill="#ff0000"/>
<path class="e" d="M539.2 289.95H541.4"/>
<text class="l" x="521.2" y="304.27">vMPOA</text>
<rect class="b" x="522.9" y="294.98" width="11.1" height="10.06" fill="#fff"/>
<path class="e" d="M534 300.01H540"/>
<rect class="b" x="522.9" y="294.98" width="9.9" height="10.06" fill="#ff0000"/>
<path class="e" d="M532.8 300.01H534"/>
<text class="l" x="521.2" y="314.35">vlMPOA</text>
<rect class="b" x="522.9" y="305.04" width="49.8" height="10.06" fill="#fff"/>
<path class="e" d="M572.7 310.07H580.7"/>
<rect class="b" x="522.9" y="305.04" width="9.1" height="10.06" fill="#ff0000"/>
<path class="e" d="M532 310.07H535.5"/>
<text class="l" x="521.2" y="324.43">BNSTdm</text>
<rect class="b" x="522.9" y="315.1" width="9.5" height="10.06" fill="#fff"/>
<path class="e" d="M532.4 320.13H537.1"/>
<rect class="b" x="522.9" y="315.1" width="6" height="10.06" fill="#ff0000"/>
<path class="e" d="M528.9 320.13H530.7"/>
<text class="l" x="521.2" y="334.51">BNSTpr</text>
<rect class="b" x="522.9" y="325.16" width="3.3" height="10.06" fill="#fff"/>
<path class="e" d="M526.2 330.19H527.8"/>
<rect class="b" x="522.9" y="325.16" width="2.5" height="10.06" fill="#ff0000"/>
<path class="e" d="M525.4 330.19H526.2"/>
<text class="l" x="521.2" y="344.59">BNSTv/mg</text>
<rect class="b" x="522.9" y="335.22" width="86" height="10.06" fill="#fff"/>
<path class="e" d="M608.9 340.25H611.4"/>
<rect class="b" x="522.9" y="335.22" width="59.5" height="10.06" fill="#ff0000"/>
<path class="e" d="M582.4 340.25H591"/>
<rect class="fr" x="522.9" y="209.45" width="97.3" height="141.05"/>
<path class="e" d="M522.9 350.5v3.2M544.68 350.5v3.2M566.46 350.5v3.2M588.24 350.5v3.2M610.02 350.5v3.2"/>
<text class="t" x="522.9" y="364.3">0</text>
<text class="t" x="544.68" y="364.3">200</text>
<text class="t" x="588.24" y="364.3">600</text>
</g>
<g id="panel-j">
<text class="p" x="635" y="204.2">j</text>
<text class="h" transform="translate(679.3 207.35) scale(1 1.0)">Trh</text>
<text class="l" x="677.3" y="223.63">ACN</text>
<rect class="b" x="679" y="214.5" width="13.8" height="10.06" fill="#fff"/>
<path class="e" d="M692.8 219.53H695"/>
<rect class="b" x="679" y="214.5" width="1.9" height="10.06" fill="#ff0000"/>
<path class="e" d="M680.9 219.53H681.9"/>
<text class="l" x="677.3" y="233.71">cMPOA</text>
<rect class="b" x="679" y="224.56" width="8.9" height="10.06" fill="#fff"/>
<path class="e" d="M687.9 229.59H691.3"/>
<rect class="b" x="679" y="224.56" width="1.2" height="10.06" fill="#ff0000"/>
<path class="e" d="M680.2 229.59H680.6"/>
<text class="l" x="677.3" y="243.79">dmMPOA</text>
<rect class="b" x="679" y="234.62" width="13.6" height="10.06" fill="#fff"/>
<path class="e" d="M692.6 239.65H695"/>
<rect class="b" x="679" y="234.62" width="1.2" height="10.06" fill="#ff0000"/>
<path class="e" d="M680.2 239.65H681.3"/>
<text class="l" x="677.3" y="253.87">MPNma</text>
<rect class="b" x="679" y="244.68" width="13.6" height="10.06" fill="#fff"/>
<path class="e" d="M692.6 249.71H701"/>
<rect class="b" x="679" y="244.68" width="8.6" height="10.06" fill="#ff0000"/>
<path class="e" d="M687.6 249.71H692.6"/>
<text class="l" x="677.3" y="263.95">MPNmp</text>
<rect class="b" x="679" y="254.74" width="20.8" height="10.06" fill="#fff"/>
<path class="e" d="M699.8 259.77H708.2"/>
<rect class="b" x="679" y="254.74" width="2.3" height="10.06" fill="#ff0000"/>
<path class="e" d="M681.3 259.77H682.9"/>
<text class="l" x="677.3" y="274.03">MPNvl</text>
<rect class="b" x="679" y="264.8" width="7.4" height="10.06" fill="#fff"/>
<path class="e" d="M686.4 269.83H691.1"/>
<rect class="b" x="679" y="264.8" width="1.8" height="10.06" fill="#ff0000"/>
<path class="e" d="M680.8 269.83H682.9"/>
<text class="l" x="677.3" y="284.11">MPNp</text>
<rect class="b" x="679" y="274.86" width="15.4" height="10.06" fill="#fff"/>
<path class="e" d="M694.4 279.89H696.5"/>
<rect class="b" x="679" y="274.86" width="7.4" height="10.06" fill="#ff0000"/>
<path class="e" d="M686.4 279.89H691.1"/>
<text class="l" x="677.3" y="294.19">MPNc</text>
<rect class="b" x="679" y="284.92" width="5.3" height="10.06" fill="#fff"/>
<path class="e" d="M684.3 289.95H686.2"/>
<rect class="b" x="679" y="284.92" width="0.4" height="10.06" fill="#ff0000"/>
<text class="l" x="677.3" y="304.27">vMPOA</text>
<rect class="b" x="679" y="294.98" width="55.4" height="10.06" fill="#fff"/>
<path class="e" d="M734.4 300.01H767.1"/>
<rect class="b" x="679" y="294.98" width="8.6" height="10.06" fill="#ff0000"/>
<path class="e" d="M687.6 300.01H693.2"/>
<text class="l" x="677.3" y="314.35">vlMPOA</text>
<rect class="b" x="679" y="305.04" width="12.6" height="10.06" fill="#fff"/>
<path class="e" d="M691.6 310.07H696.9"/>
<rect class="b" x="679" y="305.04" width="2.5" height="10.06" fill="#ff0000"/>
<path class="e" d="M681.5 310.07H684.4"/>
<text class="l" x="677.3" y="324.43">BNSTdm</text>
<rect class="b" x="679" y="315.1" width="4.3" height="10.06" fill="#fff"/>
<path class="e" d="M683.3 320.13H687.4"/>
<rect class="b" x="679" y="315.1" width="1.6" height="10.06" fill="#ff0000"/>
<path class="e" d="M680.6 320.13H682.5"/>
<text class="l" x="677.3" y="334.51">BNSTpr</text>
<rect class="b" x="679" y="325.16" width="9.7" height="10.06" fill="#fff"/>
<path class="e" d="M688.7 330.19H695.1"/>
<rect class="b" x="679" y="325.16" width="2.5" height="10.06" fill="#ff0000"/>
<path class="e" d="M681.5 330.19H682.9"/>
<text class="l" x="677.3" y="344.59">BNSTv/mg</text>
<rect class="b" x="679" y="335.22" width="7.4" height="10.06" fill="#fff"/>
<path class="e" d="M686.4 340.25H688.3"/>
<rect class="b" x="679" y="335.22" width="2.5" height="10.06" fill="#ff0000"/>
<path class="e" d="M681.5 340.25H682.9"/>
<rect class="fr" x="679" y="209.45" width="97" height="141.05"/>
<path class="e" d="M679 350.5v3.2M703.87 350.5v3.2M728.74 350.5v3.2M753.61 350.5v3.2"/>
<text class="t" x="679" y="364.3">0</text>
<text class="t" x="703.87" y="364.3">200</text>
<text class="t" x="753.61" y="364.3">600</text>
</g>
<g id="panel-k">
<text class="p" x="4.45" y="390.4">k</text>
<text class="h" transform="translate(58.5 396.3) scale(1 1.0)">Gad67</text>
<text class="l" x="56.8" y="413.44">ACN</text>
<rect class="b" x="58.2" y="404.4" width="48.6" height="10.07" fill="#fff"/>
<path class="e" d="M106.8 409.44H110"/>
<rect class="b" x="58.2" y="404.4" width="25.1" height="10.07" fill="#0000ff"/>
<path class="e" d="M83.3 409.44H90.3"/>
<text class="l" x="56.8" y="423.52">cMPOA</text>
<rect class="b" x="58.2" y="414.47" width="45.9" height="10.07" fill="#fff"/>
<path class="e" d="M104.1 419.5H110.3"/>
<rect class="b" x="58.2" y="414.47" width="31.3" height="10.07" fill="#0000ff"/>
<path class="e" d="M89.5 419.5H95.7"/>
<text class="l" x="56.8" y="433.6">dmMPOA</text>
<rect class="b" x="58.2" y="424.54" width="52.5" height="10.07" fill="#fff"/>
<path class="e" d="M110.7 429.57H117"/>
<rect class="b" x="58.2" y="424.54" width="14.2" height="10.07" fill="#0000ff"/>
<path class="e" d="M72.4 429.57H73.8"/>
<text class="l" x="56.8" y="443.68">MPNma</text>
<rect class="b" x="58.2" y="434.61" width="52.1" height="10.07" fill="#fff"/>
<path class="e" d="M110.3 439.64H116.6"/>
<rect class="b" x="58.2" y="434.61" width="37.5" height="10.07" fill="#0000ff"/>
<path class="e" d="M95.7 439.64H102"/>
<text class="l" x="56.8" y="453.76">MPNmp</text>
<rect class="b" x="58.2" y="444.68" width="49" height="10.07" fill="#fff"/>
<path class="e" d="M107.2 449.71H113.8"/>
<rect class="b" x="58.2" y="444.68" width="32.3" height="10.07" fill="#0000ff"/>
<path class="e" d="M90.5 449.71H95.4"/>
<text class="l" x="56.8" y="463.84">MPNvl</text>
<rect class="b" x="58.2" y="454.75" width="69.3" height="10.07" fill="#fff"/>
<path class="e" d="M127.5 459.79H138.9"/>
<rect class="b" x="58.2" y="454.75" width="53.7" height="10.07" fill="#0000ff"/>
<path class="e" d="M111.9 459.79H118.7"/>
<text class="l" x="56.8" y="473.92">MPNp</text>
<rect class="b" x="58.2" y="464.82" width="68.9" height="10.07" fill="#fff"/>
<path class="e" d="M127.1 469.86H132.7"/>
<rect class="b" x="58.2" y="464.82" width="55.4" height="10.07" fill="#0000ff"/>
<path class="e" d="M113.6 469.86H121"/>
<text class="l" x="56.8" y="484">MPNc</text>
<rect class="b" x="58.2" y="474.89" width="67.1" height="10.07" fill="#fff"/>
<path class="e" d="M125.3 479.93H132.1"/>
<rect class="b" x="58.2" y="474.89" width="51.2" height="10.07" fill="#0000ff"/>
<path class="e" d="M109.4 479.93H113.6"/>
<text class="l" x="56.8" y="494.08">vMPOA</text>
<rect class="b" x="58.2" y="484.96" width="44" height="10.07" fill="#fff"/>
<path class="e" d="M102.2 490H107.8"/>
<rect class="b" x="58.2" y="484.96" width="23.2" height="10.07" fill="#0000ff"/>
<path class="e" d="M81.4 490H86"/>
<text class="l" x="56.8" y="504.16">vlMPOA</text>
<rect class="b" x="58.2" y="495.03" width="26.8" height="10.07" fill="#fff"/>
<path class="e" d="M85 500.06H89.3"/>
<rect class="b" x="58.2" y="495.03" width="6.4" height="10.07" fill="#0000ff"/>
<path class="e" d="M64.6 500.06H66"/>
<text class="l" x="56.8" y="514.24">BNSTdm</text>
<rect class="b" x="58.2" y="505.1" width="50.2" height="10.07" fill="#fff"/>
<path class="e" d="M108.4 510.13H116.6"/>
<rect class="b" x="58.2" y="505.1" width="17.1" height="10.07" fill="#0000ff"/>
<path class="e" d="M75.3 510.13H82.7"/>
<text class="l" x="56.8" y="524.32">BNSTpr</text>
<rect class="b" x="58.2" y="515.17" width="80.4" height="10.07" fill="#fff"/>
<path class="e" d="M138.6 520.2H146.5"/>
<rect class="b" x="58.2" y="515.17" width="60.3" height="10.07" fill="#0000ff"/>
<path class="e" d="M118.5 520.2H125.3"/>
<text class="l" x="56.8" y="534.4">BNSTv/mg</text>
<rect class="b" x="58.2" y="525.24" width="40.9" height="10.07" fill="#fff"/>
<path class="e" d="M99.1 530.27H102.8"/>
<rect class="b" x="58.2" y="525.24" width="22.4" height="10.07" fill="#0000ff"/>
<path class="e" d="M80.6 530.27H82.1"/>
<rect class="fr" x="58.2" y="399.3" width="96.8" height="141"/>
<path class="e" d="M58.2 540.3v3.2M72.75 540.3v3.2M87.3 540.3v3.2M101.85 540.3v3.2M116.4 540.3v3.2M130.95 540.3v3.2M145.5 540.3v3.2"/>
<text class="t" x="58.2" y="554.1">0</text>
<text class="t" x="87.3" y="554.1">1000</text>
<text class="t" x="130.95" y="554.1">2500</text>
</g>
<g id="panel-l">
<text class="p" x="165" y="389.9">l</text>
<text class="h" transform="translate(214.7 396.5) scale(1 1.0)">Vglut2</text>
<text class="l" x="213" y="413.44">ACN</text>
<rect class="b" x="214.4" y="404.4" width="35.6" height="10.07" fill="#fff"/>
<path class="e" d="M250 409.44H260.3"/>
<rect class="b" x="214.4" y="404.4" width="15.2" height="10.07" fill="#0000ff"/>
<path class="e" d="M229.6 409.44H236.4"/>
<text class="l" x="213" y="423.52">cMPOA</text>
<rect class="b" x="214.4" y="414.47" width="57.4" height="10.07" fill="#fff"/>
<path class="e" d="M271.8 419.5H284.8"/>
<rect class="b" x="214.4" y="414.47" width="28.2" height="10.07" fill="#0000ff"/>
<path class="e" d="M242.6 419.5H250"/>
<text class="l" x="213" y="433.6">dmMPOA</text>
<rect class="b" x="214.4" y="424.54" width="19.5" height="10.07" fill="#fff"/>
<path class="e" d="M233.9 429.57H241.2"/>
<rect class="b" x="214.4" y="424.54" width="4.9" height="10.07" fill="#0000ff"/>
<path class="e" d="M219.3 429.57H221.8"/>
<text class="l" x="213" y="443.68">MPNma</text>
<rect class="b" x="214.4" y="434.61" width="74.9" height="10.07" fill="#fff"/>
<path class="e" d="M289.3 439.64H302.7"/>
<rect class="b" x="214.4" y="434.61" width="49.2" height="10.07" fill="#0000ff"/>
<path class="e" d="M263.6 439.64H274.7"/>
<text class="l" x="213" y="453.76">MPNmp</text>
<rect class="b" x="214.4" y="444.68" width="48.8" height="10.07" fill="#fff"/>
<path class="e" d="M263.2 449.71H281.1"/>
<rect class="b" x="214.4" y="444.68" width="27.2" height="10.07" fill="#0000ff"/>
<path class="e" d="M241.6 449.71H253.3"/>
<text class="l" x="213" y="463.84">MPNvl</text>
<rect class="b" x="214.4" y="454.75" width="52.3" height="10.07" fill="#fff"/>
<path class="e" d="M266.7 459.79H284.8"/>
<rect class="b" x="214.4" y="454.75" width="25.5" height="10.07" fill="#0000ff"/>
<path class="e" d="M239.9 459.79H249"/>
<text class="l" x="213" y="473.92">MPNp</text>
<rect class="b" x="214.4" y="464.82" width="19.3" height="10.07" fill="#fff"/>
<path class="e" d="M233.7 469.86H242.8"/>
<rect class="b" x="214.4" y="464.82" width="12.3" height="10.07" fill="#0000ff"/>
<path class="e" d="M226.7 469.86H233.7"/>
<text class="l" x="213" y="484">MPNc</text>
<rect class="b" x="214.4" y="474.89" width="34" height="10.07" fill="#fff"/>
<path class="e" d="M248.4 479.93H266"/>
<rect class="b" x="214.4" y="474.89" width="13.8" height="10.07" fill="#0000ff"/>
<path class="e" d="M228.2 479.93H239.3"/>
<text class="l" x="213" y="494.08">vMPOA</text>
<rect class="b" x="214.4" y="484.96" width="30.7" height="10.07" fill="#fff"/>
<path class="e" d="M245.1 490H251.6"/>
<rect class="b" x="214.4" y="484.96" width="8.9" height="10.07" fill="#0000ff"/>
<path class="e" d="M223.3 490H224.7"/>
<text class="l" x="213" y="504.16">vlMPOA</text>
<rect class="b" x="214.4" y="495.03" width="27.6" height="10.07" fill="#fff"/>
<path class="e" d="M242 500.06H244.6"/>
<rect class="b" x="214.4" y="495.03" width="7.4" height="10.07" fill="#0000ff"/>
<path class="e" d="M221.8 500.06H222.8"/>
<text class="l" x="213" y="514.24">BNSTdm</text>
<rect class="b" x="214.4" y="505.1" width="14.8" height="10.07" fill="#fff"/>
<path class="e" d="M229.2 510.13H232.1"/>
<rect class="b" x="214.4" y="505.1" width="3.5" height="10.07" fill="#0000ff"/>
<path class="e" d="M217.9 510.13H219.8"/>
<text class="l" x="213" y="524.32">BNSTpr</text>
<rect class="b" x="214.4" y="515.17" width="15.2" height="10.07" fill="#fff"/>
<path class="e" d="M229.6 520.2H236.4"/>
<rect class="b" x="214.4" y="515.17" width="7.8" height="10.07" fill="#0000ff"/>
<path class="e" d="M222.2 520.2H224.1"/>
<text class="l" x="213" y="534.4">BNSTv/mg</text>
<rect class="b" x="214.4" y="525.24" width="34" height="10.07" fill="#fff"/>
<path class="e" d="M248.4 530.27H259"/>
<rect class="b" x="214.4" y="525.24" width="14.8" height="10.07" fill="#0000ff"/>
<path class="e" d="M229.2 530.27H236.8"/>
<rect class="fr" x="214.4" y="399.3" width="97" height="141"/>
<path class="e" d="M214.4 540.3v3.2M227.7 540.3v3.2M241 540.3v3.2M254.3 540.3v3.2M267.6 540.3v3.2M280.9 540.3v3.2M294.2 540.3v3.2M307.5 540.3v3.2"/>
<text class="t" x="214.4" y="554.1">0</text>
<text class="t" x="241" y="554.1">400</text>
<text class="t" x="280.9" y="554.1">1000</text>
</g>
<g id="panel-m">
<text class="p" x="321.6" y="389.8">m</text>
<text class="h" transform="translate(370.7 396.75) scale(1 1.0)">Pdyn</text>
<text class="l" x="369" y="413.44">ACN</text>
<rect class="b" x="370.4" y="404.4" width="20.2" height="10.07" fill="#fff"/>
<path class="e" d="M390.6 409.44H393.7"/>
<rect class="b" x="370.4" y="404.4" width="8" height="10.07" fill="#0000ff"/>
<path class="e" d="M378.4 409.44H382.1"/>
<text class="l" x="369" y="423.52">cMPOA</text>
<rect class="b" x="370.4" y="414.47" width="81.9" height="10.07" fill="#fff"/>
<path class="e" d="M452.3 419.5H459.1"/>
<rect class="b" x="370.4" y="414.47" width="64.2" height="10.07" fill="#0000ff"/>
<path class="e" d="M434.6 419.5H446.9"/>
<text class="l" x="369" y="433.6">dmMPOA</text>
<rect class="b" x="370.4" y="424.54" width="1" height="10.07" fill="#fff"/>
<path class="e" d="M371.4 429.57H372.3"/>
<rect class="b" x="370.4" y="424.54" width="0.2" height="10.07" fill="#0000ff"/>
<text class="l" x="369" y="443.68">MPNma</text>
<rect class="b" x="370.4" y="434.61" width="16.5" height="10.07" fill="#fff"/>
<path class="e" d="M386.9 439.64H392"/>
<rect class="b" x="370.4" y="434.61" width="10.9" height="10.07" fill="#0000ff"/>
<path class="e" d="M381.3 439.64H386.9"/>
<text class="l" x="369" y="453.76">MPNmp</text>
<rect class="b" x="370.4" y="444.68" width="16.9" height="10.07" fill="#fff"/>
<path class="e" d="M387.3 449.71H389.9"/>
<rect class="b" x="370.4" y="444.68" width="12.3" height="10.07" fill="#0000ff"/>
<path class="e" d="M382.7 449.71H387.3"/>
<text class="l" x="369" y="463.84">MPNvl</text>
<rect class="b" x="370.4" y="454.75" width="46.7" height="10.07" fill="#fff"/>
<path class="e" d="M417.1 459.79H422.5"/>
<rect class="b" x="370.4" y="454.75" width="45.9" height="10.07" fill="#0000ff"/>
<path class="e" d="M416.3 459.79H417.1"/>
<text class="l" x="369" y="473.92">MPNp</text>
<rect class="b" x="370.4" y="464.82" width="22.4" height="10.07" fill="#fff"/>
<path class="e" d="M392.8 469.86H403.9"/>
<rect class="b" x="370.4" y="464.82" width="13.2" height="10.07" fill="#0000ff"/>
<path class="e" d="M383.6 469.86H392.8"/>
<text class="l" x="369" y="484">MPNc</text>
<rect class="b" x="370.4" y="474.89" width="8.6" height="10.07" fill="#fff"/>
<path class="e" d="M379 479.93H383.6"/>
<rect class="b" x="370.4" y="474.89" width="8.2" height="10.07" fill="#0000ff"/>
<path class="e" d="M378.6 479.93H379"/>
<text class="l" x="369" y="494.08">vMPOA</text>
<rect class="b" x="370.4" y="484.96" width="4.9" height="10.07" fill="#fff"/>
<path class="e" d="M375.3 490H382.1"/>
<rect class="b" x="370.4" y="484.96" width="2.5" height="10.07" fill="#0000ff"/>
<path class="e" d="M372.9 490H375.3"/>
<text class="l" x="369" y="504.16">vlMPOA</text>
<rect class="b" x="370.4" y="495.03" width="2.5" height="10.07" fill="#fff"/>
<path class="e" d="M372.9 500.06H376.4"/>
<rect class="b" x="370.4" y="495.03" width="1" height="10.07" fill="#0000ff"/>
<path class="e" d="M371.4 500.06H372"/>
<text class="l" x="369" y="514.24">BNSTdm</text>
<rect class="b" x="370.4" y="505.1" width="5.4" height="10.07" fill="#fff"/>
<path class="e" d="M375.8 510.13H379.7"/>
<rect class="b" x="370.4" y="505.1" width="3.5" height="10.07" fill="#0000ff"/>
<path class="e" d="M373.9 510.13H375.8"/>
<text class="l" x="369" y="524.32">BNSTpr</text>
<rect class="b" x="370.4" y="515.17" width="36.8" height="10.07" fill="#fff"/>
<path class="e" d="M407.2 520.2H418.8"/>
<rect class="b" x="370.4" y="515.17" width="31.1" height="10.07" fill="#0000ff"/>
<path class="e" d="M401.5 520.2H407.2"/>
<text class="l" x="369" y="534.4">BNSTv/mg</text>
<rect class="b" x="370.4" y="525.24" width="23" height="10.07" fill="#fff"/>
<path class="e" d="M393.4 530.27H406"/>
<rect class="b" x="370.4" y="525.24" width="16.3" height="10.07" fill="#0000ff"/>
<path class="e" d="M386.7 530.27H393.4"/>
<rect class="fr" x="370.4" y="399.3" width="97.2" height="141"/>
<path class="e" d="M370.4 540.3v3.2M383.67 540.3v3.2M396.94 540.3v3.2M410.21 540.3v3.2M423.48 540.3v3.2M436.75 540.3v3.2M450.02 540.3v3.2M463.29 540.3v3.2"/>
<text class="t" x="370.4" y="554.1">0</text>
<text class="t" x="396.94" y="554.1">100</text>
<text class="t" x="436.75" y="554.1">250</text>
</g>
<g id="panel-n">
<text class="p" x="479.6" y="389.9">n</text>
<text class="h" transform="translate(526.9 396.5) scale(1 1.0)">Penk</text>
<text class="l" x="525.2" y="413.44">ACN</text>
<rect class="b" x="526.6" y="404.4" width="30.7" height="10.07" fill="#fff"/>
<path class="e" d="M557.3 409.44H561"/>
<rect class="b" x="526.6" y="404.4" width="21" height="10.07" fill="#0000ff"/>
<path class="e" d="M547.6 409.44H551.9"/>
<text class="l" x="525.2" y="423.52">cMPOA</text>
<rect class="b" x="526.6" y="414.47" width="44" height="10.07" fill="#fff"/>
<path class="e" d="M570.6 419.5H575"/>
<rect class="b" x="526.6" y="414.47" width="37.2" height="10.07" fill="#0000ff"/>
<path class="e" d="M563.8 419.5H564.9"/>
<text class="l" x="525.2" y="433.6">dmMPOA</text>
<rect class="b" x="526.6" y="424.54" width="28" height="10.07" fill="#fff"/>
<path class="e" d="M554.6 429.57H556.8"/>
<rect class="b" x="526.6" y="424.54" width="4.9" height="10.07" fill="#0000ff"/>
<path class="e" d="M531.5 429.57H532.2"/>
<text class="l" x="525.2" y="443.68">MPNma</text>
<rect class="b" x="526.6" y="434.61" width="70" height="10.07" fill="#fff"/>
<path class="e" d="M596.6 439.64H615.1"/>
<rect class="b" x="526.6" y="434.61" width="59.3" height="10.07" fill="#0000ff"/>
<path class="e" d="M585.9 439.64H596.6"/>
<text class="l" x="525.2" y="453.76">MPNmp</text>
<rect class="b" x="526.6" y="444.68" width="26.7" height="10.07" fill="#fff"/>
<path class="e" d="M553.3 449.71H556.8"/>
<rect class="b" x="526.6" y="444.68" width="23" height="10.07" fill="#0000ff"/>
<path class="e" d="M549.6 449.71H553.3"/>
<text class="l" x="525.2" y="463.84">MPNvl</text>
<rect class="b" x="526.6" y="454.75" width="29.6" height="10.07" fill="#fff"/>
<path class="e" d="M556.2 459.79H563.4"/>
<rect class="b" x="526.6" y="454.75" width="22" height="10.07" fill="#0000ff"/>
<path class="e" d="M548.6 459.79H556.2"/>
<text class="l" x="525.2" y="473.92">MPNp</text>
<rect class="b" x="526.6" y="464.82" width="30.5" height="10.07" fill="#fff"/>
<path class="e" d="M557.1 469.86H563"/>
<rect class="b" x="526.6" y="464.82" width="26.5" height="10.07" fill="#0000ff"/>
<path class="e" d="M553.1 469.86H557.1"/>
<text class="l" x="525.2" y="484">MPNc</text>
<rect class="b" x="526.6" y="474.89" width="37.7" height="10.07" fill="#fff"/>
<path class="e" d="M564.3 479.93H571.3"/>
<rect class="b" x="526.6" y="474.89" width="29.4" height="10.07" fill="#0000ff"/>
<path class="e" d="M556 479.93H561"/>
<text class="l" x="525.2" y="494.08">vMPOA</text>
<rect class="b" x="526.6" y="484.96" width="15.6" height="10.07" fill="#fff"/>
<path class="e" d="M542.2 490H548.4"/>
<rect class="b" x="526.6" y="484.96" width="5.3" height="10.07" fill="#0000ff"/>
<path class="e" d="M531.9 490H536.7"/>
<text class="l" x="525.2" y="504.16">vlMPOA</text>
<rect class="b" x="526.6" y="495.03" width="2.3" height="10.07" fill="#fff"/>
<path class="e" d="M528.9 500.06H530.5"/>
<rect class="b" x="526.6" y="495.03" width="0.8" height="10.07" fill="#0000ff"/>
<text class="l" x="525.2" y="514.24">BNSTdm</text>
<rect class="b" x="526.6" y="505.1" width="18.3" height="10.07" fill="#fff"/>
<path class="e" d="M544.9 510.13H548.4"/>
<rect class="b" x="526.6" y="505.1" width="6.2" height="10.07" fill="#0000ff"/>
<path class="e" d="M532.8 510.13H533.8"/>
<text class="l" x="525.2" y="524.32">BNSTpr</text>
<rect class="b" x="526.6" y="515.17" width="34.6" height="10.07" fill="#fff"/>
<path class="e" d="M561.2 520.2H577.6"/>
<rect class="b" x="526.6" y="515.17" width="25.3" height="10.07" fill="#0000ff"/>
<path class="e" d="M551.9 520.2H561.2"/>
<text class="l" x="525.2" y="534.4">BNSTv/mg</text>
<rect class="b" x="526.6" y="525.24" width="35.4" height="10.07" fill="#fff"/>
<path class="e" d="M562 530.27H578.9"/>
<rect class="b" x="526.6" y="525.24" width="21" height="10.07" fill="#0000ff"/>
<path class="e" d="M547.6 530.27H558.1"/>
<rect class="fr" x="526.6" y="399.3" width="97.2" height="141"/>
<path class="e" d="M526.6 540.3v3.2M546.28 540.3v3.2M565.96 540.3v3.2M585.64 540.3v3.2M605.32 540.3v3.2"/>
<text class="t" x="526.6" y="554.1">0</text>
<text class="t" x="565.96" y="554.1">400</text>
<text class="t" x="605.32" y="554.1">800</text>
</g>
<g id="panel-o">
<text class="p" x="635.25" y="389.65">o</text>
<text class="h" transform="translate(683 396.5) scale(1 1.0)">Cart</text>
<text class="l" x="681.3" y="413.44">ACN</text>
<rect class="b" x="682.7" y="404.4" width="52.7" height="10.07" fill="#fff"/>
<path class="e" d="M735.4 409.44H749.8"/>
<rect class="b" x="682.7" y="404.4" width="10.5" height="10.07" fill="#0000ff"/>
<path class="e" d="M693.2 409.44H696.3"/>
<text class="l" x="681.3" y="423.52">cMPOA</text>
<rect class="b" x="682.7" y="414.47" width="21.4" height="10.07" fill="#fff"/>
<path class="e" d="M704.1 419.5H714.8"/>
<rect class="b" x="682.7" y="414.47" width="9.9" height="10.07" fill="#0000ff"/>
<path class="e" d="M692.6 419.5H695.7"/>
<text class="l" x="681.3" y="433.6">dmMPOA</text>
<rect class="b" x="682.7" y="424.54" width="13.4" height="10.07" fill="#fff"/>
<path class="e" d="M696.1 429.57H697.9"/>
<rect class="b" x="682.7" y="424.54" width="5.6" height="10.07" fill="#0000ff"/>
<path class="e" d="M688.3 429.57H690.9"/>
<text class="l" x="681.3" y="443.68">MPNma</text>
<rect class="b" x="682.7" y="434.61" width="44.4" height="10.07" fill="#fff"/>
<path class="e" d="M727.1 439.64H734.3"/>
<rect class="b" x="682.7" y="434.61" width="30.2" height="10.07" fill="#0000ff"/>
<path class="e" d="M712.9 439.64H717.7"/>
<text class="l" x="681.3" y="453.76">MPNmp</text>
<rect class="b" x="682.7" y="444.68" width="68.9" height="10.07" fill="#fff"/>
<path class="e" d="M751.6 449.71H771"/>
<rect class="b" x="682.7" y="444.68" width="34.8" height="10.07" fill="#0000ff"/>
<path class="e" d="M717.5 449.71H730.9"/>
<text class="l" x="681.3" y="463.84">MPNvl</text>
<rect class="b" x="682.7" y="454.75" width="21.4" height="10.07" fill="#fff"/>
<rect class="b" x="682.7" y="454.75" width="9.7" height="10.07" fill="#0000ff"/>
<path class="e" d="M692.4 459.79H696.3"/>
<text class="l" x="681.3" y="473.92">MPNp</text>
<rect class="b" x="682.7" y="464.82" width="37" height="10.07" fill="#fff"/>
<path class="e" d="M719.7 469.86H734.8"/>
<rect class="b" x="682.7" y="464.82" width="32.7" height="10.07" fill="#0000ff"/>
<path class="e" d="M715.4 469.86H719.7"/>
<text class="l" x="681.3" y="484">MPNc</text>
<rect class="b" x="682.7" y="474.89" width="47.9" height="10.07" fill="#fff"/>
<path class="e" d="M730.6 479.93H733.3"/>
<rect class="b" x="682.7" y="474.89" width="33.1" height="10.07" fill="#0000ff"/>
<path class="e" d="M715.8 479.93H717.3"/>
<text class="l" x="681.3" y="494.08">vMPOA</text>
<rect class="b" x="682.7" y="484.96" width="12.5" height="10.07" fill="#fff"/>
<path class="e" d="M695.2 490H701.8"/>
<rect class="b" x="682.7" y="484.96" width="8.9" height="10.07" fill="#0000ff"/>
<path class="e" d="M691.6 490H695.2"/>
<text class="l" x="681.3" y="504.16">vlMPOA</text>
<rect class="b" x="682.7" y="495.03" width="23.3" height="10.07" fill="#fff"/>
<rect class="b" x="682.7" y="495.03" width="9.7" height="10.07" fill="#0000ff"/>
<path class="e" d="M692.4 500.06H694.4"/>
<text class="l" x="681.3" y="514.24">BNSTdm</text>
<rect class="b" x="682.7" y="505.1" width="16.5" height="10.07" fill="#fff"/>
<path class="e" d="M699.2 510.13H705.1"/>
<rect class="b" x="682.7" y="505.1" width="9.5" height="10.07" fill="#0000ff"/>
<path class="e" d="M692.2 510.13H693.4"/>
<text class="l" x="681.3" y="524.32">BNSTpr</text>
<rect class="b" x="682.7" y="515.17" width="76.7" height="10.07" fill="#fff"/>
<path class="e" d="M759.4 520.2H770.6"/>
<rect class="b" x="682.7" y="515.17" width="44" height="10.07" fill="#0000ff"/>
<path class="e" d="M726.7 520.2H732.9"/>
<text class="l" x="681.3" y="534.4">BNSTv/mg</text>
<rect class="b" x="682.7" y="525.24" width="19.6" height="10.07" fill="#fff"/>
<path class="e" d="M702.3 530.27H704.1"/>
<rect class="b" x="682.7" y="525.24" width="9.7" height="10.07" fill="#0000ff"/>
<path class="e" d="M692.4 530.27H694.8"/>
<rect class="fr" x="682.7" y="399.3" width="97" height="141"/>
<path class="e" d="M682.7 540.3v3.2M703.6 540.3v3.2M724.5 540.3v3.2M745.4 540.3v3.2M766.3 540.3v3.2"/>
<text class="t" x="682.7" y="554.1">0</text>
<text class="t" x="724.5" y="554.1">400</text>
<text class="t" x="766.3" y="554.1">800</text>
</g>
<g id="panel-p">
<text class="p" x="4.4" y="583.4">p</text>
<text class="h" transform="translate(57 586.35) scale(1 1.0)">Neurotensin</text>
<text class="l" x="55.4" y="603.2">ACN</text>
<rect class="b" x="56.7" y="594.3" width="18.1" height="10.11" fill="#fff"/>
<path class="e" d="M74.8 599.35H83.2"/>
<rect class="b" x="56.7" y="594.3" width="12.8" height="10.11" fill="#0000ff"/>
<path class="e" d="M69.5 599.35H74.8"/>
<text class="l" x="55.4" y="613.32">cMPOA</text>
<rect class="b" x="56.7" y="604.4" width="35.4" height="10.11" fill="#fff"/>
<path class="e" d="M92.1 609.46H95"/>
<rect class="b" x="56.7" y="604.4" width="27.6" height="10.11" fill="#0000ff"/>
<path class="e" d="M84.3 609.46H86.1"/>
<text class="l" x="55.4" y="623.44">dmMPOA</text>
<rect class="b" x="56.7" y="614.51" width="4.5" height="10.11" fill="#fff"/>
<path class="e" d="M61.2 619.56H62.7"/>
<rect class="b" x="56.7" y="614.51" width="2.1" height="10.11" fill="#0000ff"/>
<path class="e" d="M58.8 619.56H59.8"/>
<text class="l" x="55.4" y="633.56">MPNma</text>
<rect class="b" x="56.7" y="624.62" width="19.6" height="10.11" fill="#fff"/>
<path class="e" d="M76.3 629.67H83.7"/>
<rect class="b" x="56.7" y="624.62" width="13.4" height="10.11" fill="#0000ff"/>
<path class="e" d="M70.1 629.67H73.4"/>
<text class="l" x="55.4" y="643.68">MPNmp</text>
<rect class="b" x="56.7" y="634.72" width="6.6" height="10.11" fill="#fff"/>
<path class="e" d="M63.3 639.77H65.1"/>
<rect class="b" x="56.7" y="634.72" width="4.1" height="10.11" fill="#0000ff"/>
<path class="e" d="M60.8 639.77H62.1"/>
<text class="l" x="55.4" y="653.8">MPNvl</text>
<rect class="b" x="56.7" y="644.82" width="84" height="10.11" fill="#fff"/>
<path class="e" d="M140.7 649.88H145.8"/>
<rect class="b" x="56.7" y="644.82" width="67.9" height="10.11" fill="#0000ff"/>
<path class="e" d="M124.6 649.88H130.4"/>
<text class="l" x="55.4" y="663.92">MPNp</text>
<rect class="b" x="56.7" y="654.93" width="22.6" height="10.11" fill="#fff"/>
<path class="e" d="M79.3 659.98H82.8"/>
<rect class="b" x="56.7" y="654.93" width="16.9" height="10.11" fill="#0000ff"/>
<path class="e" d="M73.6 659.98H76.9"/>
<text class="l" x="55.4" y="674.04">MPNc</text>
<rect class="b" x="56.7" y="665.03" width="32.9" height="10.11" fill="#fff"/>
<path class="e" d="M89.6 670.09H104"/>
<rect class="b" x="56.7" y="665.03" width="21.2" height="10.11" fill="#0000ff"/>
<path class="e" d="M77.9 670.09H89.6"/>
<text class="l" x="55.4" y="684.16">vMPOA</text>
<rect class="b" x="56.7" y="675.14" width="20.8" height="10.11" fill="#fff"/>
<path class="e" d="M77.5 680.19H83.7"/>
<rect class="b" x="56.7" y="675.14" width="10.9" height="10.11" fill="#0000ff"/>
<path class="e" d="M67.6 680.19H72.5"/>
<text class="l" x="55.4" y="694.28">vlMPOA</text>
<rect class="b" x="56.7" y="685.25" width="8" height="10.11" fill="#fff"/>
<path class="e" d="M64.7 690.3H66.8"/>
<rect class="b" x="56.7" y="685.25" width="3.1" height="10.11" fill="#0000ff"/>
<path class="e" d="M59.8 690.3H61.8"/>
<text class="l" x="55.4" y="704.4">BNSTdm</text>
<rect class="b" x="56.7" y="695.35" width="3.7" height="10.11" fill="#fff"/>
<path class="e" d="M60.4 700.4H62.7"/>
<rect class="b" x="56.7" y="695.35" width="2.7" height="10.11" fill="#0000ff"/>
<path class="e" d="M59.4 700.4H60.4"/>
<text class="l" x="55.4" y="714.52">BNSTpr</text>
<rect class="b" x="56.7" y="705.45" width="3.7" height="10.11" fill="#fff"/>
<path class="e" d="M60.4 710.51H62.7"/>
<rect class="b" x="56.7" y="705.45" width="2.1" height="10.11" fill="#0000ff"/>
<text class="l" x="55.4" y="724.64">BNSTv/mg</text>
<rect class="b" x="56.7" y="715.56" width="46.7" height="10.11" fill="#fff"/>
<path class="e" d="M103.4 720.61H106.9"/>
<rect class="b" x="56.7" y="715.56" width="36.8" height="10.11" fill="#0000ff"/>
<path class="e" d="M93.5 720.61H95.4"/>
<rect class="fr" x="56.7" y="589.1" width="97.2" height="141.9"/>
<path class="e" d="M56.7 731v3.2M70.53 731v3.2M84.36 731v3.2M98.19 731v3.2M112.02 731v3.2M125.85 731v3.2M139.68 731v3.2M153.51 731v3.2"/>
<text class="t" x="56.7" y="744.8">0</text>
<text class="t" x="84.36" y="744.8">400</text>
<text class="t" x="112.02" y="744.8">800</text>
<text class="t" x="153.51" y="744.8">1400</text>
</g>
<g id="panel-q">
<text class="p" x="165" y="583.4">q</text>
<text class="h" transform="translate(214.3 586.35) scale(1 1.0)">Galanin</text>
<text class="l" x="212.7" y="603.2">ACN</text>
<rect class="b" x="214" y="594.3" width="43" height="10.11" fill="#fff"/>
<path class="e" d="M257 599.35H268.5"/>
<rect class="b" x="214" y="594.3" width="30.5" height="10.11" fill="#0000ff"/>
<path class="e" d="M244.5 599.35H257"/>
<text class="l" x="212.7" y="613.32">cMPOA</text>
<rect class="b" x="214" y="604.4" width="62.6" height="10.11" fill="#fff"/>
<path class="e" d="M276.6 609.46H280.1"/>
<rect class="b" x="214" y="604.4" width="46.5" height="10.11" fill="#0000ff"/>
<path class="e" d="M260.5 609.46H265.9"/>
<text class="l" x="212.7" y="623.44">dmMPOA</text>
<rect class="b" x="214" y="614.51" width="25.9" height="10.11" fill="#fff"/>
<path class="e" d="M239.9 619.56H247.1"/>
<rect class="b" x="214" y="614.51" width="11.3" height="10.11" fill="#0000ff"/>
<path class="e" d="M225.3 619.56H229"/>
<text class="l" x="212.7" y="633.56">MPNma</text>
<rect class="b" x="214" y="624.62" width="85.6" height="10.11" fill="#fff"/>
<path class="e" d="M299.6 629.67H302.9"/>
<rect class="b" x="214" y="624.62" width="74.7" height="10.11" fill="#0000ff"/>
<path class="e" d="M288.7 629.67H290.8"/>
<text class="l" x="212.7" y="643.68">MPNmp</text>
<rect class="b" x="214" y="634.72" width="54.7" height="10.11" fill="#fff"/>
<path class="e" d="M268.7 639.77H289.3"/>
<rect class="b" x="214" y="634.72" width="35.6" height="10.11" fill="#0000ff"/>
<path class="e" d="M249.6 639.77H265.9"/>
<text class="l" x="212.7" y="653.8">MPNvl</text>
<rect class="b" x="214" y="644.82" width="56.4" height="10.11" fill="#fff"/>
<path class="e" d="M270.4 649.88H277.6"/>
<rect class="b" x="214" y="644.82" width="43.2" height="10.11" fill="#0000ff"/>
<path class="e" d="M257.2 649.88H262.1"/>
<text class="l" x="212.7" y="663.92">MPNp</text>
<rect class="b" x="214" y="654.93" width="36.6" height="10.11" fill="#fff"/>
<path class="e" d="M250.6 659.98H257.4"/>
<rect class="b" x="214" y="654.93" width="32.1" height="10.11" fill="#0000ff"/>
<path class="e" d="M246.1 659.98H250.6"/>
<text class="l" x="212.7" y="674.04">MPNc</text>
<rect class="b" x="214" y="665.03" width="60.5" height="10.11" fill="#fff"/>
<path class="e" d="M274.5 670.09H283.6"/>
<rect class="b" x="214" y="665.03" width="46.9" height="10.11" fill="#0000ff"/>
<path class="e" d="M260.9 670.09H267.1"/>
<text class="l" x="212.7" y="684.16">vMPOA</text>
<rect class="b" x="214" y="675.14" width="9.1" height="10.11" fill="#fff"/>
<path class="e" d="M223.1 680.19H226.3"/>
<rect class="b" x="214" y="675.14" width="7.4" height="10.11" fill="#0000ff"/>
<path class="e" d="M221.4 680.19H223.1"/>
<text class="l" x="212.7" y="694.28">vlMPOA</text>
<rect class="b" x="214" y="685.25" width="26.8" height="10.11" fill="#fff"/>
<path class="e" d="M240.8 690.3H246.1"/>
<rect class="b" x="214" y="685.25" width="6.4" height="10.11" fill="#0000ff"/>
<path class="e" d="M220.4 690.3H222.2"/>
<text class="l" x="212.7" y="704.4">BNSTdm</text>
<rect class="b" x="214" y="695.35" width="10.3" height="10.11" fill="#fff"/>
<path class="e" d="M224.3 700.4H230"/>
<rect class="b" x="214" y="695.35" width="4.3" height="10.11" fill="#0000ff"/>
<path class="e" d="M218.3 700.4H220.4"/>
<text class="l" x="212.7" y="714.52">BNSTpr</text>
<rect class="b" x="214" y="705.45" width="23.5" height="10.11" fill="#fff"/>
<path class="e" d="M237.5 710.51H254.9"/>
<rect class="b" x="214" y="705.45" width="21" height="10.11" fill="#0000ff"/>
<path class="e" d="M235 710.51H237.5"/>
<text class="l" x="212.7" y="724.64">BNSTv/mg</text>
<rect class="b" x="214" y="715.56" width="45.3" height="10.11" fill="#fff"/>
<path class="e" d="M259.3 720.61H266.9"/>
<rect class="b" x="214" y="715.56" width="31.7" height="10.11" fill="#0000ff"/>
<path class="e" d="M245.7 720.61H251.5"/>
<rect class="fr" x="214" y="589.1" width="97.4" height="141.9"/>
<path class="e" d="M214 731v3.2M229.28 731v3.2M244.56 731v3.2M259.84 731v3.2M275.12 731v3.2M290.4 731v3.2M305.68 731v3.2"/>
<text class="t" x="214" y="744.8">0</text>
<text class="t" x="244.56" y="744.8">400</text>
<text class="t" x="275.12" y="744.8">800</text>
</g>
<g id="panel-r">
<text class="p" x="321.6" y="583">r</text>
<text class="h" transform="translate(371.3 586.35) scale(1 1.0)">Tac1</text>
<text class="l" x="369.7" y="603.2">ACN</text>
<rect class="b" x="371" y="594.3" width="11.7" height="10.11" fill="#fff"/>
<path class="e" d="M382.7 599.35H390.1"/>
<rect class="b" x="371" y="594.3" width="8.4" height="10.11" fill="#0000ff"/>
<path class="e" d="M379.4 599.35H382.7"/>
<text class="l" x="369.7" y="613.32">cMPOA</text>
<rect class="b" x="371" y="604.4" width="15.6" height="10.11" fill="#fff"/>
<path class="e" d="M386.6 609.46H387.5"/>
<rect class="b" x="371" y="604.4" width="9.3" height="10.11" fill="#0000ff"/>
<path class="e" d="M380.3 609.46H381.7"/>
<text class="l" x="369.7" y="623.44">dmMPOA</text>
<rect class="b" x="371" y="614.51" width="18.1" height="10.11" fill="#fff"/>
<path class="e" d="M389.1 619.56H393.4"/>
<rect class="b" x="371" y="614.51" width="8.8" height="10.11" fill="#0000ff"/>
<path class="e" d="M379.8 619.56H384"/>
<text class="l" x="369.7" y="633.56">MPNma</text>
<rect class="b" x="371" y="624.62" width="10.5" height="10.11" fill="#fff"/>
<path class="e" d="M381.5 629.67H387.9"/>
<rect class="b" x="371" y="624.62" width="10.1" height="10.11" fill="#0000ff"/>
<path class="e" d="M381.1 629.67H381.5"/>
<text class="l" x="369.7" y="643.68">MPNmp</text>
<rect class="b" x="371" y="634.72" width="3.9" height="10.11" fill="#fff"/>
<path class="e" d="M374.9 639.77H379.8"/>
<rect class="b" x="371" y="634.72" width="3.3" height="10.11" fill="#0000ff"/>
<path class="e" d="M374.3 639.77H374.9"/>
<text class="l" x="369.7" y="653.8">MPNvl</text>
<rect class="b" x="371" y="644.82" width="12.6" height="10.11" fill="#fff"/>
<path class="e" d="M383.6 649.88H386"/>
<rect class="b" x="371" y="644.82" width="11.9" height="10.11" fill="#0000ff"/>
<path class="e" d="M382.9 649.88H383.6"/>
<text class="l" x="369.7" y="663.92">MPNp</text>
<rect class="b" x="371" y="654.93" width="12.3" height="10.11" fill="#fff"/>
<path class="e" d="M383.3 659.98H384.4"/>
<rect class="b" x="371" y="654.93" width="8.8" height="10.11" fill="#0000ff"/>
<path class="e" d="M379.8 659.98H381.7"/>
<text class="l" x="369.7" y="674.04">MPNc</text>
<rect class="b" x="371" y="665.03" width="31.7" height="10.11" fill="#fff"/>
<path class="e" d="M402.7 670.09H410.5"/>
<rect class="b" x="371" y="665.03" width="22.6" height="10.11" fill="#0000ff"/>
<path class="e" d="M393.6 670.09H399.6"/>
<text class="l" x="369.7" y="684.16">vMPOA</text>
<rect class="b" x="371" y="675.14" width="3.3" height="10.11" fill="#fff"/>
<path class="e" d="M374.3 680.19H378.8"/>
<rect class="b" x="371" y="675.14" width="0.4" height="10.11" fill="#0000ff"/>
<text class="l" x="369.7" y="694.28">vlMPOA</text>
<rect class="b" x="371" y="685.25" width="5.1" height="10.11" fill="#fff"/>
<path class="e" d="M376.1 690.3H379.2"/>
<rect class="b" x="371" y="685.25" width="4.5" height="10.11" fill="#0000ff"/>
<path class="e" d="M375.5 690.3H376.1"/>
<text class="l" x="369.7" y="704.4">BNSTdm</text>
<rect class="b" x="371" y="695.35" width="21.8" height="10.11" fill="#fff"/>
<path class="e" d="M392.8 700.4H394.9"/>
<rect class="b" x="371" y="695.35" width="9.7" height="10.11" fill="#0000ff"/>
<path class="e" d="M380.7 700.4H386.6"/>
<text class="l" x="369.7" y="714.52">BNSTpr</text>
<rect class="b" x="371" y="705.45" width="73.5" height="10.11" fill="#fff"/>
<path class="e" d="M444.5 710.51H459.9"/>
<rect class="b" x="371" y="705.45" width="63.6" height="10.11" fill="#0000ff"/>
<path class="e" d="M434.6 710.51H444.5"/>
<text class="l" x="369.7" y="724.64">BNSTv/mg</text>
<rect class="b" x="371" y="715.56" width="15.6" height="10.11" fill="#fff"/>
<path class="e" d="M386.6 720.61H390.8"/>
<rect class="b" x="371" y="715.56" width="4.5" height="10.11" fill="#0000ff"/>
<path class="e" d="M375.5 720.61H377.8"/>
<rect class="fr" x="371" y="589.1" width="97.4" height="141.9"/>
<path class="e" d="M371 731v3.2M391.38 731v3.2M411.76 731v3.2M432.14 731v3.2M452.52 731v3.2"/>
<text class="t" x="371" y="744.8">0</text>
<text class="t" x="391.38" y="744.8">50</text>
<text class="t" x="432.14" y="744.8">150</text>
</g>
<g id="panel-s">
<text class="p" x="479.6" y="583">s</text>
<text class="h" transform="translate(528.5 586.35) scale(1 1.0)">Tac2</text>
<text class="l" x="526.9" y="603.2">ACN</text>
<rect class="b" x="528.2" y="594.3" width="25.5" height="10.11" fill="#fff"/>
<path class="e" d="M553.7 599.35H562.1"/>
<rect class="b" x="528.2" y="594.3" width="17.3" height="10.11" fill="#0000ff"/>
<path class="e" d="M545.5 599.35H552.3"/>
<text class="l" x="526.9" y="613.32">cMPOA</text>
<rect class="b" x="528.2" y="604.4" width="37.4" height="10.11" fill="#fff"/>
<path class="e" d="M565.6 609.46H571.4"/>
<rect class="b" x="528.2" y="604.4" width="30" height="10.11" fill="#0000ff"/>
<path class="e" d="M558.2 609.46H562.1"/>
<text class="l" x="526.9" y="623.44">dmMPOA</text>
<rect class="b" x="528.2" y="614.51" width="1.6" height="10.11" fill="#fff"/>
<path class="e" d="M529.8 619.56H532.5"/>
<rect class="b" x="528.2" y="614.51" width="0.8" height="10.11" fill="#0000ff"/>
<text class="l" x="526.9" y="633.56">MPNma</text>
<rect class="b" x="528.2" y="624.62" width="3.3" height="10.11" fill="#fff"/>
<path class="e" d="M531.5 629.67H535.2"/>
<rect class="b" x="528.2" y="624.62" width="2.7" height="10.11" fill="#0000ff"/>
<path class="e" d="M530.9 629.67H531.5"/>
<text class="l" x="526.9" y="643.68">MPNmp</text>
<rect class="b" x="528.2" y="634.72" width="4.3" height="10.11" fill="#fff"/>
<path class="e" d="M532.5 639.77H534.4"/>
<rect class="b" x="528.2" y="634.72" width="3.1" height="10.11" fill="#0000ff"/>
<path class="e" d="M531.3 639.77H532.5"/>
<text class="l" x="526.9" y="653.8">MPNvl</text>
<rect class="b" x="528.2" y="644.82" width="28.4" height="10.11" fill="#fff"/>
<path class="e" d="M556.6 649.88H562.1"/>
<rect class="b" x="528.2" y="644.82" width="22.2" height="10.11" fill="#0000ff"/>
<path class="e" d="M550.4 649.88H556.6"/>
<text class="l" x="526.9" y="663.92">MPNp</text>
<rect class="b" x="528.2" y="654.93" width="16" height="10.11" fill="#fff"/>
<path class="e" d="M544.2 659.98H548.4"/>
<rect class="b" x="528.2" y="654.93" width="10.5" height="10.11" fill="#0000ff"/>
<path class="e" d="M538.7 659.98H544.2"/>
<text class="l" x="526.9" y="674.04">MPNc</text>
<rect class="b" x="528.2" y="665.03" width="13.2" height="10.11" fill="#fff"/>
<rect class="b" x="528.2" y="665.03" width="6.2" height="10.11" fill="#0000ff"/>
<path class="e" d="M534.4 670.09H536.8"/>
<text class="l" x="526.9" y="684.16">vMPOA</text>
<rect class="b" x="528.2" y="675.14" width="11.3" height="10.11" fill="#fff"/>
<path class="e" d="M539.5 680.19H541.4"/>
<rect class="b" x="528.2" y="675.14" width="5.1" height="10.11" fill="#0000ff"/>
<path class="e" d="M533.3 680.19H534.8"/>
<text class="l" x="526.9" y="694.28">vlMPOA</text>
<rect class="b" x="528.2" y="685.25" width="45.1" height="10.11" fill="#fff"/>
<path class="e" d="M573.3 690.3H576.6"/>
<rect class="b" x="528.2" y="685.25" width="17.7" height="10.11" fill="#0000ff"/>
<path class="e" d="M545.9 690.3H547.5"/>
<text class="l" x="526.9" y="704.4">BNSTdm</text>
<rect class="b" x="528.2" y="695.35" width="12.5" height="10.11" fill="#fff"/>
<path class="e" d="M540.7 700.4H548.4"/>
<rect class="b" x="528.2" y="695.35" width="9.7" height="10.11" fill="#0000ff"/>
<path class="e" d="M537.9 700.4H540.7"/>
<text class="l" x="526.9" y="714.52">BNSTpr</text>
<rect class="b" x="528.2" y="705.45" width="15.2" height="10.11" fill="#fff"/>
<path class="e" d="M543.4 710.51H544.2"/>
<rect class="b" x="528.2" y="705.45" width="8" height="10.11" fill="#0000ff"/>
<path class="e" d="M536.2 710.51H538.1"/>
<text class="l" x="526.9" y="724.64">BNSTv/mg</text>
<rect class="b" x="528.2" y="715.56" width="68.1" height="10.11" fill="#fff"/>
<path class="e" d="M596.3 720.61H616.9"/>
<rect class="b" x="528.2" y="715.56" width="43.2" height="10.11" fill="#0000ff"/>
<path class="e" d="M571.4 720.61H581.1"/>
<rect class="fr" x="528.2" y="589.1" width="97.5" height="141.9"/>
<path class="e" d="M528.2 731v3.2M553.07 731v3.2M577.94 731v3.2M602.81 731v3.2"/>
<text class="t" x="528.2" y="744.8">0</text>
<text class="t" x="553.07" y="744.8">200</text>
<text class="t" x="602.81" y="744.8">600</text>
</g>
<g id="panel-t">
<text class="p" x="634.9" y="582.65">t</text>
<text class="h" transform="translate(685.6 586.35) scale(1 1.0)">Trh</text>
<text class="l" x="684" y="603.2">ACN</text>
<rect class="b" x="685.3" y="594.3" width="19.5" height="10.11" fill="#fff"/>
<path class="e" d="M704.8 599.35H706.7"/>
<rect class="b" x="685.3" y="594.3" width="4.9" height="10.11" fill="#0000ff"/>
<path class="e" d="M690.2 599.35H691.5"/>
<text class="l" x="684" y="613.32">cMPOA</text>
<rect class="b" x="685.3" y="604.4" width="2.9" height="10.11" fill="#fff"/>
<path class="e" d="M688.2 609.46H689"/>
<rect class="b" x="685.3" y="604.4" width="0.4" height="10.11" fill="#0000ff"/>
<text class="l" x="684" y="623.44">dmMPOA</text>
<rect class="b" x="685.3" y="614.51" width="11.1" height="10.11" fill="#fff"/>
<path class="e" d="M696.4 619.56H703.2"/>
<rect class="b" x="685.3" y="614.51" width="2.9" height="10.11" fill="#0000ff"/>
<path class="e" d="M688.2 619.56H691.5"/>
<text class="l" x="684" y="633.56">MPNma</text>
<rect class="b" x="685.3" y="624.62" width="7.8" height="10.11" fill="#fff"/>
<path class="e" d="M693.1 629.67H694.8"/>
<rect class="b" x="685.3" y="624.62" width="4.1" height="10.11" fill="#0000ff"/>
<path class="e" d="M689.4 629.67H691.5"/>
<text class="l" x="684" y="643.68">MPNmp</text>
<rect class="b" x="685.3" y="634.72" width="25.3" height="10.11" fill="#fff"/>
<path class="e" d="M710.6 639.77H719"/>
<rect class="b" x="685.3" y="634.72" width="11.5" height="10.11" fill="#0000ff"/>
<path class="e" d="M696.8 639.77H702.8"/>
<text class="l" x="684" y="653.8">MPNvl</text>
<rect class="b" x="685.3" y="644.82" width="3.7" height="10.11" fill="#fff"/>
<path class="e" d="M689 649.88H689.8"/>
<rect class="b" x="685.3" y="644.82" width="0.8" height="10.11" fill="#0000ff"/>
<text class="l" x="684" y="663.92">MPNp</text>
<rect class="b" x="685.3" y="654.93" width="19.1" height="10.11" fill="#fff"/>
<path class="e" d="M704.4 659.98H711.6"/>
<rect class="b" x="685.3" y="654.93" width="3.7" height="10.11" fill="#0000ff"/>
<path class="e" d="M689 659.98H692.9"/>
<text class="l" x="684" y="674.04">MPNc</text>
<rect class="b" x="685.3" y="665.03" width="2.1" height="10.11" fill="#fff"/>
<path class="e" d="M687.4 670.09H688.6"/>
<rect class="b" x="685.3" y="665.03" width="1.8" height="10.11" fill="#0000ff"/>
<path class="e" d="M687.1 670.09H687.4"/>
<text class="l" x="684" y="684.16">vMPOA</text>
<rect class="b" x="685.3" y="675.14" width="61.3" height="10.11" fill="#fff"/>
<path class="e" d="M746.6 680.19H774.2"/>
<rect class="b" x="685.3" y="675.14" width="12.1" height="10.11" fill="#0000ff"/>
<path class="e" d="M697.4 680.19H702.8"/>
<text class="l" x="684" y="694.28">vlMPOA</text>
<rect class="b" x="685.3" y="685.25" width="48.2" height="10.11" fill="#fff"/>
<path class="e" d="M733.5 690.3H754.9"/>
<rect class="b" x="685.3" y="685.25" width="10.5" height="10.11" fill="#0000ff"/>
<path class="e" d="M695.8 690.3H699.3"/>
<text class="l" x="684" y="704.4">BNSTdm</text>
<rect class="b" x="685.3" y="695.35" width="3.7" height="10.11" fill="#fff"/>
<path class="e" d="M689 700.4H692.5"/>
<rect class="b" x="685.3" y="695.35" width="1.8" height="10.11" fill="#0000ff"/>
<path class="e" d="M687.1 700.4H687.8"/>
<text class="l" x="684" y="714.52">BNSTpr</text>
<rect class="b" x="685.3" y="705.45" width="3.7" height="10.11" fill="#fff"/>
<path class="e" d="M689 710.51H692.1"/>
<rect class="b" x="685.3" y="705.45" width="1.4" height="10.11" fill="#0000ff"/>
<path class="e" d="M686.7 710.51H687.4"/>
<text class="l" x="684" y="724.64">BNSTv/mg</text>
<rect class="b" x="685.3" y="715.56" width="4.3" height="10.11" fill="#fff"/>
<path class="e" d="M689.6 720.61H691.1"/>
<rect class="b" x="685.3" y="715.56" width="1.8" height="10.11" fill="#0000ff"/>
<path class="e" d="M687.1 720.61H687.8"/>
<rect class="fr" x="685.3" y="589.1" width="97.3" height="141.9"/>
<path class="e" d="M685.3 731v3.2M698.56 731v3.2M711.82 731v3.2M725.08 731v3.2M738.34 731v3.2M751.6 731v3.2M764.86 731v3.2M778.12 731v3.2"/>
<text class="t" x="685.3" y="744.8">0</text>
<text class="t" x="711.82" y="744.8">200</text>
<text class="t" x="751.6" y="744.8">500</text>
</g>
<text x="311" y="765.4" style="font-size:18.25px">Density of cells (/mm</text>
<text transform="translate(479.9 763.0) scale(1.33 1)" style="font-size:15.2px">²</text>
<text x="486.9" y="765.4" style="font-size:18.25px">)</text>
</svg></body></html>
